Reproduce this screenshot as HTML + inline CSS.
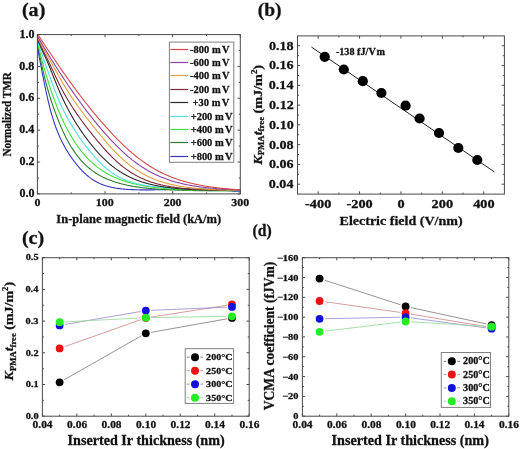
<!DOCTYPE html>
<html><head><meta charset="utf-8"><style>html,body{margin:0;padding:0;background:#fff;}svg{display:block;filter:blur(0.35px);} text{stroke:#111;stroke-width:0.28px;paint-order:stroke;}</style></head><body>
<svg width="520" height="449" viewBox="0 0 520 449" font-family="'Liberation Serif', 'Times New Roman', serif">
<rect width="520" height="449" fill="#fff"/>
<g fill="none" stroke-width="1.1" stroke-linejoin="round">
<path d="M37.40,43.49 L37.74,46.84 L38.08,49.68 L38.41,52.13 L38.75,54.28 L39.09,56.22 L39.43,58.03 L39.77,59.79 L40.11,61.54 L40.44,63.30 L40.78,65.05 L41.12,66.81 L41.46,68.57 L41.80,70.32 L42.13,72.06 L42.47,73.80 L42.81,75.53 L43.15,77.25 L43.49,78.96 L43.83,80.65 L44.16,82.33 L44.50,84.00 L44.84,85.65 L45.18,87.29 L45.52,88.90 L45.85,90.50 L46.19,92.08 L46.53,93.63 L46.87,95.17 L47.21,96.69 L47.55,98.18 L47.88,99.65 L48.22,101.09 L48.56,102.52 L48.90,103.92 L49.24,105.29 L49.57,106.64 L49.91,107.97 L50.25,109.27 L50.59,110.54 L50.93,111.79 L51.26,113.01 L51.94,115.39 L52.62,117.66 L53.30,119.85 L53.98,121.94 L54.65,123.96 L55.33,125.89 L56.01,127.76 L56.69,129.56 L57.36,131.29 L58.04,132.97 L58.72,134.58 L59.40,136.15 L60.07,137.66 L60.75,139.12 L61.43,140.54 L62.11,141.92 L62.78,143.26 L63.46,144.56 L64.14,145.82 L64.82,147.05 L65.49,148.24 L66.17,149.41 L66.85,150.55 L67.53,151.66 L68.20,152.74 L68.88,153.80 L69.56,154.83 L70.24,155.84 L70.91,156.83 L71.59,157.80 L72.27,158.76 L72.95,159.69 L73.62,160.60 L74.30,161.50 L74.98,162.38 L75.66,163.24 L76.33,164.09 L77.01,164.92 L77.69,165.73 L78.37,166.54 L79.04,167.32 L79.72,168.09 L80.40,168.85 L81.08,169.59 L81.75,170.31 L82.43,171.01 L83.11,171.70 L83.79,172.37 L84.46,173.02 L85.14,173.66 L85.82,174.28 L86.50,174.88 L87.17,175.46 L87.85,176.03 L88.53,176.58 L89.21,177.11 L89.88,177.63 L90.56,178.13 L91.24,178.62 L91.92,179.08 L92.60,179.54 L93.27,179.98 L93.95,180.40 L94.63,180.81 L95.31,181.21 L95.98,181.59 L96.66,181.95 L97.34,182.31 L98.02,182.65 L98.69,182.98 L99.37,183.30 L100.05,183.60 L100.73,183.90 L101.40,184.18 L102.08,184.45 L102.76,184.71 L103.44,184.97 L104.11,185.21 L104.79,185.44 L105.47,185.66 L106.15,185.88 L106.82,186.08 L107.50,186.28 L108.18,186.47 L108.86,186.65 L109.53,186.82 L110.21,186.99 L110.89,187.15 L111.57,187.30 L112.24,187.44 L112.92,187.58 L113.60,187.72 L114.28,187.84 L114.95,187.97 L115.63,188.08 L116.31,188.19 L116.99,188.30 L117.66,188.40 L118.34,188.49 L119.02,188.58 L119.70,188.67 L120.37,188.75 L121.05,188.83 L121.73,188.90 L122.41,188.97 L123.08,189.03 L123.76,189.10 L124.44,189.15 L125.12,189.21 L125.79,189.26 L126.47,189.31 L127.15,189.36 L127.83,189.40 L128.51,189.44 L129.18,189.48 L129.86,189.52 L130.54,189.55 L131.22,189.59 L131.89,189.62 L132.57,189.65 L133.25,189.67 L133.93,189.70 L134.60,189.72 L135.28,189.74 L135.96,189.76 L136.64,189.78 L137.31,189.80 L137.99,189.81 L138.67,189.82 L139.35,189.84 L140.02,189.85 L140.70,189.86 L141.38,189.87 L142.06,189.87 L142.73,189.88 L143.41,189.88 L144.09,189.89 L144.77,189.89 L145.44,189.89 L146.12,189.89 L146.80,189.89 L147.48,189.89 L148.15,189.89 L148.83,189.89 L149.51,189.88 L150.19,189.88 L150.86,189.87 L151.54,189.86 L152.22,189.86 L152.90,189.85 L153.57,189.84 L154.25,189.83 L154.93,189.82 L155.61,189.81 L156.28,189.80 L156.96,189.79 L157.64,189.77 L158.32,189.76 L158.99,189.75 L159.67,189.73 L160.35,189.72 L161.03,189.70 L161.70,189.69 L162.38,189.67 L163.06,189.65 L163.74,189.64 L164.41,189.62 L165.09,189.60 L165.77,189.58 L166.45,189.56 L167.13,189.55 L167.80,189.53 L168.48,189.51 L169.16,189.49 L169.84,189.47 L170.51,189.45 L171.19,189.43 L171.87,189.41 L172.55,189.39 L173.22,189.37 L173.90,189.35 L174.58,189.33 L175.26,189.31 L175.93,189.29 L176.61,189.27 L177.29,189.25 L177.97,189.23 L178.64,189.21 L179.32,189.19 L180.00,189.18 L180.68,189.16 L181.35,189.14 L182.03,189.13 L182.71,189.11 L183.39,189.09 L184.06,189.08 L184.74,189.07 L185.42,189.05 L186.10,189.04 L186.77,189.03 L187.45,189.02 L188.13,189.01 L188.81,189.00 L189.48,188.99 L190.16,188.98 L190.84,188.97 L191.52,188.97 L192.19,188.97 L192.87,188.96 L193.55,188.96 L194.23,188.96 L194.90,188.96 L195.58,188.96 L196.26,188.97 L196.94,188.97 L197.61,188.98 L198.29,188.99 L198.97,188.99 L199.65,189.01 L200.32,189.02 L201.00,189.03 L201.68,189.05 L202.36,189.06 L203.04,189.08 L203.71,189.10 L204.39,189.12 L205.07,189.15 L205.75,189.17 L206.42,189.20 L207.10,189.23 L207.78,189.26 L208.46,189.29 L209.13,189.32 L209.81,189.36 L210.49,189.39 L211.17,189.43 L211.84,189.47 L212.52,189.51 L213.20,189.55 L213.88,189.60 L214.55,189.64 L215.23,189.69 L215.91,189.73 L216.59,189.78 L217.26,189.83 L217.94,189.88 L218.62,189.94 L219.30,189.99 L219.97,190.04 L220.65,190.10 L221.33,190.15 L222.01,190.21 L222.68,190.27 L223.36,190.33 L224.04,190.39 L224.72,190.44 L225.39,190.50 L226.07,190.56 L226.75,190.62 L227.43,190.68 L228.10,190.74 L228.78,190.81 L229.46,190.87 L230.14,190.93 L230.81,190.99 L231.49,191.05 L232.17,191.11 L232.85,191.16 L233.52,191.22 L234.20,191.28 L234.88,191.34 L235.56,191.40 L236.23,191.45 L236.91,191.51 L237.59,191.56 L238.27,191.62 L238.94,191.67 L239.62,191.72 L240.30,191.77" stroke="#3636c0"/>
<path d="M37.40,42.08 L37.74,44.16 L38.08,46.17 L38.41,48.13 L38.75,50.04 L39.09,51.89 L39.43,53.70 L39.77,55.47 L40.11,57.20 L40.44,58.89 L40.78,60.56 L41.12,62.19 L41.46,63.80 L41.80,65.37 L42.13,66.92 L42.47,68.45 L42.81,69.94 L43.15,71.41 L43.49,72.86 L43.83,74.28 L44.16,75.68 L44.50,77.06 L44.84,78.42 L45.18,79.76 L45.52,81.07 L45.85,82.37 L46.19,83.64 L46.53,84.90 L46.87,86.14 L47.21,87.36 L47.55,88.57 L47.88,89.76 L48.22,90.93 L48.56,92.09 L48.90,93.23 L49.24,94.36 L49.57,95.47 L49.91,96.57 L50.25,97.65 L50.59,98.73 L50.93,99.79 L51.26,100.83 L51.94,102.90 L52.62,104.92 L53.30,106.89 L53.98,108.83 L54.65,110.72 L55.33,112.58 L56.01,114.41 L56.69,116.21 L57.36,117.97 L58.04,119.70 L58.72,121.39 L59.40,123.06 L60.07,124.69 L60.75,126.28 L61.43,127.85 L62.11,129.38 L62.78,130.88 L63.46,132.35 L64.14,133.78 L64.82,135.19 L65.49,136.56 L66.17,137.90 L66.85,139.21 L67.53,140.49 L68.20,141.73 L68.88,142.95 L69.56,144.14 L70.24,145.30 L70.91,146.43 L71.59,147.53 L72.27,148.61 L72.95,149.65 L73.62,150.67 L74.30,151.67 L74.98,152.64 L75.66,153.58 L76.33,154.50 L77.01,155.40 L77.69,156.28 L78.37,157.13 L79.04,157.96 L79.72,158.78 L80.40,159.57 L81.08,160.34 L81.75,161.09 L82.43,161.82 L83.11,162.54 L83.79,163.23 L84.46,163.91 L85.14,164.57 L85.82,165.22 L86.50,165.85 L87.17,166.46 L87.85,167.06 L88.53,167.64 L89.21,168.21 L89.88,168.76 L90.56,169.31 L91.24,169.83 L91.92,170.35 L92.60,170.85 L93.27,171.34 L93.95,171.81 L94.63,172.28 L95.31,172.73 L95.98,173.17 L96.66,173.60 L97.34,174.02 L98.02,174.43 L98.69,174.83 L99.37,175.22 L100.05,175.61 L100.73,175.98 L101.40,176.34 L102.08,176.69 L102.76,177.04 L103.44,177.37 L104.11,177.70 L104.79,178.02 L105.47,178.33 L106.15,178.64 L106.82,178.93 L107.50,179.22 L108.18,179.51 L108.86,179.78 L109.53,180.05 L110.21,180.31 L110.89,180.57 L111.57,180.82 L112.24,181.06 L112.92,181.30 L113.60,181.53 L114.28,181.76 L114.95,181.98 L115.63,182.20 L116.31,182.41 L116.99,182.61 L117.66,182.81 L118.34,183.01 L119.02,183.20 L119.70,183.39 L120.37,183.57 L121.05,183.75 L121.73,183.92 L122.41,184.09 L123.08,184.26 L123.76,184.42 L124.44,184.58 L125.12,184.73 L125.79,184.88 L126.47,185.03 L127.15,185.17 L127.83,185.31 L128.51,185.45 L129.18,185.58 L129.86,185.72 L130.54,185.84 L131.22,185.97 L131.89,186.09 L132.57,186.21 L133.25,186.32 L133.93,186.44 L134.60,186.55 L135.28,186.66 L135.96,186.76 L136.64,186.87 L137.31,186.97 L137.99,187.06 L138.67,187.16 L139.35,187.25 L140.02,187.35 L140.70,187.44 L141.38,187.52 L142.06,187.61 L142.73,187.69 L143.41,187.77 L144.09,187.85 L144.77,187.93 L145.44,188.01 L146.12,188.08 L146.80,188.16 L147.48,188.23 L148.15,188.30 L148.83,188.36 L149.51,188.43 L150.19,188.50 L150.86,188.56 L151.54,188.62 L152.22,188.68 L152.90,188.74 L153.57,188.80 L154.25,188.86 L154.93,188.91 L155.61,188.96 L156.28,189.02 L156.96,189.07 L157.64,189.12 L158.32,189.17 L158.99,189.22 L159.67,189.26 L160.35,189.31 L161.03,189.35 L161.70,189.40 L162.38,189.44 L163.06,189.48 L163.74,189.52 L164.41,189.56 L165.09,189.60 L165.77,189.64 L166.45,189.67 L167.13,189.71 L167.80,189.75 L168.48,189.78 L169.16,189.81 L169.84,189.85 L170.51,189.88 L171.19,189.91 L171.87,189.94 L172.55,189.97 L173.22,190.00 L173.90,190.03 L174.58,190.05 L175.26,190.08 L175.93,190.11 L176.61,190.13 L177.29,190.16 L177.97,190.18 L178.64,190.20 L179.32,190.23 L180.00,190.25 L180.68,190.27 L181.35,190.29 L182.03,190.31 L182.71,190.33 L183.39,190.35 L184.06,190.37 L184.74,190.39 L185.42,190.41 L186.10,190.42 L186.77,190.44 L187.45,190.46 L188.13,190.47 L188.81,190.49 L189.48,190.50 L190.16,190.51 L190.84,190.53 L191.52,190.54 L192.19,190.55 L192.87,190.57 L193.55,190.58 L194.23,190.59 L194.90,190.60 L195.58,190.61 L196.26,190.62 L196.94,190.63 L197.61,190.64 L198.29,190.65 L198.97,190.65 L199.65,190.66 L200.32,190.67 L201.00,190.67 L201.68,190.68 L202.36,190.69 L203.04,190.69 L203.71,190.70 L204.39,190.70 L205.07,190.71 L205.75,190.71 L206.42,190.71 L207.10,190.71 L207.78,190.72 L208.46,190.72 L209.13,190.72 L209.81,190.72 L210.49,190.72 L211.17,190.72 L211.84,190.72 L212.52,190.72 L213.20,190.72 L213.88,190.72 L214.55,190.72 L215.23,190.71 L215.91,190.71 L216.59,190.71 L217.26,190.70 L217.94,190.70 L218.62,190.70 L219.30,190.69 L219.97,190.69 L220.65,190.68 L221.33,190.67 L222.01,190.67 L222.68,190.66 L223.36,190.65 L224.04,190.64 L224.72,190.63 L225.39,190.62 L226.07,190.61 L226.75,190.60 L227.43,190.59 L228.10,190.58 L228.78,190.57 L229.46,190.55 L230.14,190.54 L230.81,190.53 L231.49,190.51 L232.17,190.50 L232.85,190.48 L233.52,190.46 L234.20,190.45 L234.88,190.43 L235.56,190.41 L236.23,190.39 L236.91,190.37 L237.59,190.35 L238.27,190.33 L238.94,190.31 L239.62,190.28 L240.30,190.26" stroke="#2e7d32"/>
<path d="M37.40,42.15 L37.74,43.55 L38.08,44.94 L38.41,46.32 L38.75,47.69 L39.09,49.04 L39.43,50.39 L39.77,51.72 L40.11,53.05 L40.44,54.36 L40.78,55.66 L41.12,56.96 L41.46,58.24 L41.80,59.51 L42.13,60.77 L42.47,62.02 L42.81,63.26 L43.15,64.49 L43.49,65.71 L43.83,66.92 L44.16,68.12 L44.50,69.31 L44.84,70.49 L45.18,71.66 L45.52,72.82 L45.85,73.96 L46.19,75.10 L46.53,76.23 L46.87,77.36 L47.21,78.47 L47.55,79.57 L47.88,80.66 L48.22,81.74 L48.56,82.82 L48.90,83.88 L49.24,84.93 L49.57,85.98 L49.91,87.02 L50.25,88.04 L50.59,89.06 L50.93,90.07 L51.26,91.07 L51.94,93.05 L52.62,94.99 L53.30,96.90 L53.98,98.78 L54.65,100.62 L55.33,102.43 L56.01,104.20 L56.69,105.95 L57.36,107.66 L58.04,109.34 L58.72,110.99 L59.40,112.61 L60.07,114.19 L60.75,115.75 L61.43,117.28 L62.11,118.79 L62.78,120.26 L63.46,121.71 L64.14,123.12 L64.82,124.52 L65.49,125.88 L66.17,127.22 L66.85,128.54 L67.53,129.82 L68.20,131.09 L68.88,132.33 L69.56,133.54 L70.24,134.73 L70.91,135.90 L71.59,137.05 L72.27,138.17 L72.95,139.27 L73.62,140.35 L74.30,141.41 L74.98,142.45 L75.66,143.47 L76.33,144.46 L77.01,145.44 L77.69,146.40 L78.37,147.34 L79.04,148.26 L79.72,149.16 L80.40,150.04 L81.08,150.90 L81.75,151.75 L82.43,152.58 L83.11,153.40 L83.79,154.19 L84.46,154.97 L85.14,155.74 L85.82,156.49 L86.50,157.22 L87.17,157.94 L87.85,158.65 L88.53,159.34 L89.21,160.01 L89.88,160.67 L90.56,161.32 L91.24,161.96 L91.92,162.58 L92.60,163.19 L93.27,163.78 L93.95,164.37 L94.63,164.94 L95.31,165.50 L95.98,166.05 L96.66,166.58 L97.34,167.11 L98.02,167.62 L98.69,168.13 L99.37,168.62 L100.05,169.10 L100.73,169.57 L101.40,170.04 L102.08,170.49 L102.76,170.93 L103.44,171.37 L104.11,171.79 L104.79,172.21 L105.47,172.61 L106.15,173.01 L106.82,173.40 L107.50,173.78 L108.18,174.16 L108.86,174.52 L109.53,174.88 L110.21,175.23 L110.89,175.57 L111.57,175.91 L112.24,176.24 L112.92,176.56 L113.60,176.88 L114.28,177.18 L114.95,177.49 L115.63,177.78 L116.31,178.07 L116.99,178.35 L117.66,178.63 L118.34,178.90 L119.02,179.16 L119.70,179.42 L120.37,179.68 L121.05,179.93 L121.73,180.17 L122.41,180.41 L123.08,180.64 L123.76,180.87 L124.44,181.09 L125.12,181.31 L125.79,181.52 L126.47,181.73 L127.15,181.94 L127.83,182.14 L128.51,182.33 L129.18,182.53 L129.86,182.71 L130.54,182.90 L131.22,183.08 L131.89,183.25 L132.57,183.43 L133.25,183.60 L133.93,183.76 L134.60,183.92 L135.28,184.08 L135.96,184.24 L136.64,184.39 L137.31,184.53 L137.99,184.68 L138.67,184.82 L139.35,184.96 L140.02,185.10 L140.70,185.23 L141.38,185.36 L142.06,185.49 L142.73,185.61 L143.41,185.74 L144.09,185.86 L144.77,185.97 L145.44,186.09 L146.12,186.20 L146.80,186.31 L147.48,186.42 L148.15,186.52 L148.83,186.63 L149.51,186.73 L150.19,186.83 L150.86,186.92 L151.54,187.02 L152.22,187.11 L152.90,187.20 L153.57,187.29 L154.25,187.38 L154.93,187.46 L155.61,187.54 L156.28,187.63 L156.96,187.71 L157.64,187.78 L158.32,187.86 L158.99,187.94 L159.67,188.01 L160.35,188.08 L161.03,188.15 L161.70,188.22 L162.38,188.29 L163.06,188.35 L163.74,188.42 L164.41,188.48 L165.09,188.54 L165.77,188.60 L166.45,188.66 L167.13,188.72 L167.80,188.78 L168.48,188.83 L169.16,188.89 L169.84,188.94 L170.51,188.99 L171.19,189.04 L171.87,189.09 L172.55,189.14 L173.22,189.19 L173.90,189.24 L174.58,189.28 L175.26,189.33 L175.93,189.37 L176.61,189.41 L177.29,189.46 L177.97,189.50 L178.64,189.54 L179.32,189.58 L180.00,189.61 L180.68,189.65 L181.35,189.69 L182.03,189.72 L182.71,189.76 L183.39,189.79 L184.06,189.83 L184.74,189.86 L185.42,189.89 L186.10,189.92 L186.77,189.95 L187.45,189.98 L188.13,190.01 L188.81,190.04 L189.48,190.07 L190.16,190.10 L190.84,190.12 L191.52,190.15 L192.19,190.18 L192.87,190.20 L193.55,190.22 L194.23,190.25 L194.90,190.27 L195.58,190.29 L196.26,190.32 L196.94,190.34 L197.61,190.36 L198.29,190.38 L198.97,190.40 L199.65,190.42 L200.32,190.44 L201.00,190.45 L201.68,190.47 L202.36,190.49 L203.04,190.51 L203.71,190.52 L204.39,190.54 L205.07,190.55 L205.75,190.57 L206.42,190.58 L207.10,190.60 L207.78,190.61 L208.46,190.62 L209.13,190.64 L209.81,190.65 L210.49,190.66 L211.17,190.67 L211.84,190.68 L212.52,190.69 L213.20,190.70 L213.88,190.71 L214.55,190.72 L215.23,190.73 L215.91,190.74 L216.59,190.75 L217.26,190.75 L217.94,190.76 L218.62,190.77 L219.30,190.78 L219.97,190.78 L220.65,190.79 L221.33,190.79 L222.01,190.80 L222.68,190.80 L223.36,190.81 L224.04,190.81 L224.72,190.81 L225.39,190.82 L226.07,190.82 L226.75,190.82 L227.43,190.82 L228.10,190.82 L228.78,190.83 L229.46,190.83 L230.14,190.83 L230.81,190.83 L231.49,190.83 L232.17,190.83 L232.85,190.82 L233.52,190.82 L234.20,190.82 L234.88,190.82 L235.56,190.82 L236.23,190.81 L236.91,190.81 L237.59,190.80 L238.27,190.80 L238.94,190.80 L239.62,190.79 L240.30,190.78" stroke="#44dd44"/>
<path d="M37.40,40.67 L37.74,41.82 L38.08,42.93 L38.41,44.03 L38.75,45.10 L39.09,46.16 L39.43,47.19 L39.77,48.21 L40.11,49.22 L40.44,50.21 L40.78,51.19 L41.12,52.16 L41.46,53.13 L41.80,54.08 L42.13,55.04 L42.47,55.99 L42.81,56.93 L43.15,57.88 L43.49,58.83 L43.83,59.77 L44.16,60.73 L44.50,61.68 L44.84,62.64 L45.18,63.59 L45.52,64.55 L45.85,65.51 L46.19,66.47 L46.53,67.44 L46.87,68.40 L47.21,69.36 L47.55,70.32 L47.88,71.28 L48.22,72.24 L48.56,73.19 L48.90,74.15 L49.24,75.10 L49.57,76.05 L49.91,76.99 L50.25,77.94 L50.59,78.88 L50.93,79.81 L51.26,80.75 L51.94,82.60 L52.62,84.44 L53.30,86.26 L53.98,88.05 L54.65,89.82 L55.33,91.57 L56.01,93.29 L56.69,94.98 L57.36,96.65 L58.04,98.28 L58.72,99.89 L59.40,101.46 L60.07,103.01 L60.75,104.52 L61.43,106.00 L62.11,107.45 L62.78,108.87 L63.46,110.27 L64.14,111.63 L64.82,112.98 L65.49,114.30 L66.17,115.59 L66.85,116.87 L67.53,118.12 L68.20,119.35 L68.88,120.56 L69.56,121.75 L70.24,122.93 L70.91,124.08 L71.59,125.22 L72.27,126.34 L72.95,127.45 L73.62,128.54 L74.30,129.62 L74.98,130.68 L75.66,131.73 L76.33,132.77 L77.01,133.79 L77.69,134.80 L78.37,135.80 L79.04,136.78 L79.72,137.76 L80.40,138.72 L81.08,139.68 L81.75,140.62 L82.43,141.55 L83.11,142.48 L83.79,143.39 L84.46,144.30 L85.14,145.19 L85.82,146.08 L86.50,146.95 L87.17,147.82 L87.85,148.68 L88.53,149.54 L89.21,150.38 L89.88,151.22 L90.56,152.04 L91.24,152.86 L91.92,153.67 L92.60,154.47 L93.27,155.26 L93.95,156.05 L94.63,156.82 L95.31,157.58 L95.98,158.33 L96.66,159.07 L97.34,159.79 L98.02,160.51 L98.69,161.22 L99.37,161.91 L100.05,162.59 L100.73,163.26 L101.40,163.92 L102.08,164.57 L102.76,165.20 L103.44,165.82 L104.11,166.43 L104.79,167.03 L105.47,167.62 L106.15,168.19 L106.82,168.75 L107.50,169.30 L108.18,169.84 L108.86,170.37 L109.53,170.89 L110.21,171.39 L110.89,171.88 L111.57,172.36 L112.24,172.83 L112.92,173.29 L113.60,173.74 L114.28,174.18 L114.95,174.61 L115.63,175.02 L116.31,175.43 L116.99,175.83 L117.66,176.21 L118.34,176.59 L119.02,176.96 L119.70,177.31 L120.37,177.66 L121.05,178.00 L121.73,178.33 L122.41,178.65 L123.08,178.97 L123.76,179.27 L124.44,179.57 L125.12,179.85 L125.79,180.13 L126.47,180.41 L127.15,180.67 L127.83,180.93 L128.51,181.18 L129.18,181.42 L129.86,181.65 L130.54,181.88 L131.22,182.11 L131.89,182.32 L132.57,182.53 L133.25,182.73 L133.93,182.93 L134.60,183.12 L135.28,183.30 L135.96,183.48 L136.64,183.66 L137.31,183.82 L137.99,183.99 L138.67,184.14 L139.35,184.30 L140.02,184.44 L140.70,184.59 L141.38,184.72 L142.06,184.86 L142.73,184.99 L143.41,185.11 L144.09,185.23 L144.77,185.35 L145.44,185.46 L146.12,185.57 L146.80,185.68 L147.48,185.78 L148.15,185.88 L148.83,185.98 L149.51,186.07 L150.19,186.16 L150.86,186.25 L151.54,186.34 L152.22,186.42 L152.90,186.50 L153.57,186.58 L154.25,186.65 L154.93,186.73 L155.61,186.80 L156.28,186.87 L156.96,186.93 L157.64,187.00 L158.32,187.06 L158.99,187.13 L159.67,187.19 L160.35,187.25 L161.03,187.30 L161.70,187.36 L162.38,187.41 L163.06,187.46 L163.74,187.52 L164.41,187.57 L165.09,187.61 L165.77,187.66 L166.45,187.71 L167.13,187.75 L167.80,187.80 L168.48,187.84 L169.16,187.88 L169.84,187.92 L170.51,187.96 L171.19,188.00 L171.87,188.04 L172.55,188.08 L173.22,188.11 L173.90,188.15 L174.58,188.18 L175.26,188.22 L175.93,188.25 L176.61,188.29 L177.29,188.32 L177.97,188.35 L178.64,188.38 L179.32,188.41 L180.00,188.44 L180.68,188.47 L181.35,188.50 L182.03,188.53 L182.71,188.56 L183.39,188.58 L184.06,188.61 L184.74,188.64 L185.42,188.66 L186.10,188.69 L186.77,188.71 L187.45,188.74 L188.13,188.77 L188.81,188.79 L189.48,188.82 L190.16,188.84 L190.84,188.86 L191.52,188.89 L192.19,188.91 L192.87,188.94 L193.55,188.96 L194.23,188.98 L194.90,189.01 L195.58,189.03 L196.26,189.05 L196.94,189.07 L197.61,189.10 L198.29,189.12 L198.97,189.14 L199.65,189.17 L200.32,189.19 L201.00,189.21 L201.68,189.23 L202.36,189.26 L203.04,189.28 L203.71,189.30 L204.39,189.33 L205.07,189.35 L205.75,189.37 L206.42,189.40 L207.10,189.42 L207.78,189.44 L208.46,189.47 L209.13,189.49 L209.81,189.51 L210.49,189.54 L211.17,189.56 L211.84,189.59 L212.52,189.61 L213.20,189.63 L213.88,189.66 L214.55,189.68 L215.23,189.71 L215.91,189.73 L216.59,189.76 L217.26,189.79 L217.94,189.81 L218.62,189.84 L219.30,189.86 L219.97,189.89 L220.65,189.92 L221.33,189.94 L222.01,189.97 L222.68,190.00 L223.36,190.03 L224.04,190.05 L224.72,190.08 L225.39,190.11 L226.07,190.14 L226.75,190.17 L227.43,190.19 L228.10,190.22 L228.78,190.25 L229.46,190.28 L230.14,190.31 L230.81,190.34 L231.49,190.37 L232.17,190.40 L232.85,190.43 L233.52,190.46 L234.20,190.49 L234.88,190.52 L235.56,190.55 L236.23,190.58 L236.91,190.61 L237.59,190.65 L238.27,190.68 L238.94,190.71 L239.62,190.74 L240.30,190.77" stroke="#55dede"/>
<path d="M37.40,38.51 L37.74,39.47 L38.08,40.40 L38.41,41.32 L38.75,42.21 L39.09,43.08 L39.43,43.93 L39.77,44.77 L40.11,45.59 L40.44,46.40 L40.78,47.19 L41.12,47.97 L41.46,48.74 L41.80,49.50 L42.13,50.26 L42.47,51.01 L42.81,51.75 L43.15,52.49 L43.49,53.22 L43.83,53.95 L44.16,54.68 L44.50,55.42 L44.84,56.15 L45.18,56.88 L45.52,57.62 L45.85,58.36 L46.19,59.11 L46.53,59.87 L46.87,60.63 L47.21,61.39 L47.55,62.17 L47.88,62.96 L48.22,63.75 L48.56,64.55 L48.90,65.36 L49.24,66.18 L49.57,67.00 L49.91,67.83 L50.25,68.66 L50.59,69.50 L50.93,70.34 L51.26,71.18 L51.94,72.88 L52.62,74.58 L53.30,76.29 L53.98,77.99 L54.65,79.69 L55.33,81.39 L56.01,83.07 L56.69,84.74 L57.36,86.39 L58.04,88.02 L58.72,89.64 L59.40,91.22 L60.07,92.78 L60.75,94.32 L61.43,95.82 L62.11,97.30 L62.78,98.76 L63.46,100.19 L64.14,101.60 L64.82,102.98 L65.49,104.34 L66.17,105.68 L66.85,107.00 L67.53,108.30 L68.20,109.58 L68.88,110.84 L69.56,112.08 L70.24,113.31 L70.91,114.52 L71.59,115.71 L72.27,116.88 L72.95,118.04 L73.62,119.18 L74.30,120.31 L74.98,121.42 L75.66,122.52 L76.33,123.60 L77.01,124.68 L77.69,125.73 L78.37,126.78 L79.04,127.81 L79.72,128.83 L80.40,129.84 L81.08,130.84 L81.75,131.83 L82.43,132.80 L83.11,133.77 L83.79,134.72 L84.46,135.67 L85.14,136.60 L85.82,137.53 L86.50,138.44 L87.17,139.34 L87.85,140.24 L88.53,141.13 L89.21,142.00 L89.88,142.87 L90.56,143.73 L91.24,144.58 L91.92,145.42 L92.60,146.25 L93.27,147.08 L93.95,147.89 L94.63,148.69 L95.31,149.49 L95.98,150.27 L96.66,151.05 L97.34,151.81 L98.02,152.56 L98.69,153.31 L99.37,154.04 L100.05,154.77 L100.73,155.48 L101.40,156.18 L102.08,156.88 L102.76,157.56 L103.44,158.23 L104.11,158.90 L104.79,159.55 L105.47,160.19 L106.15,160.82 L106.82,161.45 L107.50,162.06 L108.18,162.66 L108.86,163.25 L109.53,163.84 L110.21,164.41 L110.89,164.97 L111.57,165.52 L112.24,166.07 L112.92,166.60 L113.60,167.13 L114.28,167.64 L114.95,168.15 L115.63,168.64 L116.31,169.13 L116.99,169.61 L117.66,170.08 L118.34,170.54 L119.02,170.99 L119.70,171.44 L120.37,171.87 L121.05,172.30 L121.73,172.72 L122.41,173.13 L123.08,173.53 L123.76,173.92 L124.44,174.31 L125.12,174.69 L125.79,175.06 L126.47,175.42 L127.15,175.78 L127.83,176.13 L128.51,176.47 L129.18,176.80 L129.86,177.13 L130.54,177.45 L131.22,177.77 L131.89,178.07 L132.57,178.38 L133.25,178.67 L133.93,178.96 L134.60,179.24 L135.28,179.52 L135.96,179.79 L136.64,180.05 L137.31,180.31 L137.99,180.56 L138.67,180.81 L139.35,181.05 L140.02,181.29 L140.70,181.52 L141.38,181.74 L142.06,181.97 L142.73,182.18 L143.41,182.39 L144.09,182.60 L144.77,182.80 L145.44,183.00 L146.12,183.19 L146.80,183.38 L147.48,183.56 L148.15,183.74 L148.83,183.92 L149.51,184.09 L150.19,184.26 L150.86,184.42 L151.54,184.58 L152.22,184.74 L152.90,184.89 L153.57,185.04 L154.25,185.19 L154.93,185.33 L155.61,185.47 L156.28,185.60 L156.96,185.74 L157.64,185.87 L158.32,185.99 L158.99,186.12 L159.67,186.24 L160.35,186.35 L161.03,186.47 L161.70,186.58 L162.38,186.69 L163.06,186.80 L163.74,186.90 L164.41,187.00 L165.09,187.10 L165.77,187.20 L166.45,187.29 L167.13,187.39 L167.80,187.48 L168.48,187.56 L169.16,187.65 L169.84,187.73 L170.51,187.81 L171.19,187.89 L171.87,187.97 L172.55,188.04 L173.22,188.12 L173.90,188.19 L174.58,188.26 L175.26,188.33 L175.93,188.39 L176.61,188.46 L177.29,188.52 L177.97,188.58 L178.64,188.64 L179.32,188.70 L180.00,188.76 L180.68,188.81 L181.35,188.87 L182.03,188.92 L182.71,188.97 L183.39,189.02 L184.06,189.07 L184.74,189.11 L185.42,189.16 L186.10,189.20 L186.77,189.24 L187.45,189.29 L188.13,189.33 L188.81,189.36 L189.48,189.40 L190.16,189.44 L190.84,189.48 L191.52,189.51 L192.19,189.54 L192.87,189.58 L193.55,189.61 L194.23,189.64 L194.90,189.67 L195.58,189.69 L196.26,189.72 L196.94,189.75 L197.61,189.77 L198.29,189.80 L198.97,189.82 L199.65,189.84 L200.32,189.87 L201.00,189.89 L201.68,189.91 L202.36,189.92 L203.04,189.94 L203.71,189.96 L204.39,189.98 L205.07,189.99 L205.75,190.01 L206.42,190.02 L207.10,190.03 L207.78,190.04 L208.46,190.05 L209.13,190.06 L209.81,190.07 L210.49,190.08 L211.17,190.09 L211.84,190.10 L212.52,190.10 L213.20,190.11 L213.88,190.11 L214.55,190.12 L215.23,190.12 L215.91,190.12 L216.59,190.12 L217.26,190.12 L217.94,190.12 L218.62,190.12 L219.30,190.12 L219.97,190.11 L220.65,190.11 L221.33,190.10 L222.01,190.10 L222.68,190.09 L223.36,190.08 L224.04,190.07 L224.72,190.06 L225.39,190.05 L226.07,190.04 L226.75,190.03 L227.43,190.01 L228.10,190.00 L228.78,189.98 L229.46,189.96 L230.14,189.94 L230.81,189.92 L231.49,189.90 L232.17,189.88 L232.85,189.86 L233.52,189.83 L234.20,189.81 L234.88,189.78 L235.56,189.75 L236.23,189.72 L236.91,189.69 L237.59,189.66 L238.27,189.62 L238.94,189.58 L239.62,189.55 L240.30,189.51" stroke="#2a2a2a"/>
<path d="M37.40,37.64 L37.74,38.51 L38.08,39.36 L38.41,40.19 L38.75,41.01 L39.09,41.82 L39.43,42.61 L39.77,43.39 L40.11,44.15 L40.44,44.91 L40.78,45.65 L41.12,46.39 L41.46,47.12 L41.80,47.84 L42.13,48.55 L42.47,49.25 L42.81,49.95 L43.15,50.65 L43.49,51.34 L43.83,52.02 L44.16,52.70 L44.50,53.38 L44.84,54.06 L45.18,54.74 L45.52,55.41 L45.85,56.09 L46.19,56.76 L46.53,57.44 L46.87,58.11 L47.21,58.79 L47.55,59.48 L47.88,60.16 L48.22,60.85 L48.56,61.54 L48.90,62.24 L49.24,62.94 L49.57,63.64 L49.91,64.35 L50.25,65.07 L50.59,65.78 L50.93,66.50 L51.26,67.23 L51.94,68.68 L52.62,70.14 L53.30,71.60 L53.98,73.05 L54.65,74.51 L55.33,75.96 L56.01,77.40 L56.69,78.84 L57.36,80.25 L58.04,81.66 L58.72,83.05 L59.40,84.41 L60.07,85.76 L60.75,87.09 L61.43,88.40 L62.11,89.68 L62.78,90.95 L63.46,92.20 L64.14,93.42 L64.82,94.64 L65.49,95.83 L66.17,97.01 L66.85,98.17 L67.53,99.32 L68.20,100.45 L68.88,101.57 L69.56,102.68 L70.24,103.77 L70.91,104.85 L71.59,105.92 L72.27,106.98 L72.95,108.03 L73.62,109.06 L74.30,110.08 L74.98,111.10 L75.66,112.10 L76.33,113.10 L77.01,114.09 L77.69,115.07 L78.37,116.04 L79.04,117.00 L79.72,117.95 L80.40,118.90 L81.08,119.84 L81.75,120.77 L82.43,121.70 L83.11,122.62 L83.79,123.53 L84.46,124.44 L85.14,125.34 L85.82,126.23 L86.50,127.12 L87.17,128.01 L87.85,128.89 L88.53,129.76 L89.21,130.63 L89.88,131.49 L90.56,132.35 L91.24,133.20 L91.92,134.05 L92.60,134.90 L93.27,135.74 L93.95,136.57 L94.63,137.41 L95.31,138.23 L95.98,139.06 L96.66,139.87 L97.34,140.69 L98.02,141.50 L98.69,142.30 L99.37,143.10 L100.05,143.90 L100.73,144.69 L101.40,145.48 L102.08,146.26 L102.76,147.04 L103.44,147.81 L104.11,148.58 L104.79,149.34 L105.47,150.09 L106.15,150.83 L106.82,151.57 L107.50,152.31 L108.18,153.03 L108.86,153.75 L109.53,154.46 L110.21,155.16 L110.89,155.85 L111.57,156.54 L112.24,157.22 L112.92,157.88 L113.60,158.54 L114.28,159.20 L114.95,159.84 L115.63,160.47 L116.31,161.10 L116.99,161.72 L117.66,162.32 L118.34,162.92 L119.02,163.51 L119.70,164.09 L120.37,164.66 L121.05,165.23 L121.73,165.78 L122.41,166.33 L123.08,166.86 L123.76,167.39 L124.44,167.91 L125.12,168.42 L125.79,168.92 L126.47,169.41 L127.15,169.89 L127.83,170.37 L128.51,170.83 L129.18,171.29 L129.86,171.74 L130.54,172.18 L131.22,172.61 L131.89,173.03 L132.57,173.45 L133.25,173.85 L133.93,174.25 L134.60,174.64 L135.28,175.03 L135.96,175.40 L136.64,175.77 L137.31,176.13 L137.99,176.49 L138.67,176.83 L139.35,177.17 L140.02,177.50 L140.70,177.83 L141.38,178.15 L142.06,178.46 L142.73,178.76 L143.41,179.06 L144.09,179.35 L144.77,179.63 L145.44,179.91 L146.12,180.19 L146.80,180.45 L147.48,180.71 L148.15,180.97 L148.83,181.22 L149.51,181.46 L150.19,181.70 L150.86,181.93 L151.54,182.16 L152.22,182.38 L152.90,182.59 L153.57,182.80 L154.25,183.01 L154.93,183.21 L155.61,183.41 L156.28,183.60 L156.96,183.79 L157.64,183.97 L158.32,184.15 L158.99,184.33 L159.67,184.50 L160.35,184.66 L161.03,184.83 L161.70,184.98 L162.38,185.14 L163.06,185.29 L163.74,185.44 L164.41,185.58 L165.09,185.72 L165.77,185.86 L166.45,185.99 L167.13,186.12 L167.80,186.25 L168.48,186.37 L169.16,186.49 L169.84,186.61 L170.51,186.72 L171.19,186.83 L171.87,186.94 L172.55,187.05 L173.22,187.15 L173.90,187.25 L174.58,187.35 L175.26,187.44 L175.93,187.54 L176.61,187.63 L177.29,187.72 L177.97,187.80 L178.64,187.88 L179.32,187.97 L180.00,188.05 L180.68,188.12 L181.35,188.20 L182.03,188.27 L182.71,188.34 L183.39,188.41 L184.06,188.48 L184.74,188.54 L185.42,188.61 L186.10,188.67 L186.77,188.73 L187.45,188.79 L188.13,188.84 L188.81,188.90 L189.48,188.95 L190.16,189.00 L190.84,189.05 L191.52,189.10 L192.19,189.15 L192.87,189.19 L193.55,189.24 L194.23,189.28 L194.90,189.32 L195.58,189.36 L196.26,189.40 L196.94,189.44 L197.61,189.48 L198.29,189.51 L198.97,189.55 L199.65,189.58 L200.32,189.61 L201.00,189.64 L201.68,189.67 L202.36,189.70 L203.04,189.72 L203.71,189.75 L204.39,189.77 L205.07,189.80 L205.75,189.82 L206.42,189.84 L207.10,189.86 L207.78,189.88 L208.46,189.90 L209.13,189.92 L209.81,189.93 L210.49,189.95 L211.17,189.96 L211.84,189.98 L212.52,189.99 L213.20,190.00 L213.88,190.01 L214.55,190.02 L215.23,190.03 L215.91,190.03 L216.59,190.04 L217.26,190.05 L217.94,190.05 L218.62,190.05 L219.30,190.06 L219.97,190.06 L220.65,190.06 L221.33,190.06 L222.01,190.05 L222.68,190.05 L223.36,190.05 L224.04,190.04 L224.72,190.04 L225.39,190.03 L226.07,190.02 L226.75,190.01 L227.43,190.00 L228.10,189.99 L228.78,189.98 L229.46,189.96 L230.14,189.95 L230.81,189.93 L231.49,189.91 L232.17,189.89 L232.85,189.87 L233.52,189.85 L234.20,189.83 L234.88,189.80 L235.56,189.77 L236.23,189.74 L236.91,189.72 L237.59,189.68 L238.27,189.65 L238.94,189.62 L239.62,189.58 L240.30,189.54" stroke="#7a2a3c"/>
<path d="M37.40,36.78 L37.74,37.48 L38.08,38.18 L38.41,38.86 L38.75,39.55 L39.09,40.22 L39.43,40.89 L39.77,41.55 L40.11,42.21 L40.44,42.87 L40.78,43.51 L41.12,44.16 L41.46,44.80 L41.80,45.43 L42.13,46.06 L42.47,46.69 L42.81,47.31 L43.15,47.93 L43.49,48.55 L43.83,49.17 L44.16,49.78 L44.50,50.39 L44.84,51.00 L45.18,51.61 L45.52,52.21 L45.85,52.82 L46.19,53.42 L46.53,54.03 L46.87,54.63 L47.21,55.23 L47.55,55.83 L47.88,56.43 L48.22,57.03 L48.56,57.64 L48.90,58.24 L49.24,58.84 L49.57,59.44 L49.91,60.05 L50.25,60.66 L50.59,61.26 L50.93,61.87 L51.26,62.48 L51.94,63.71 L52.62,64.94 L53.30,66.17 L53.98,67.41 L54.65,68.65 L55.33,69.88 L56.01,71.11 L56.69,72.34 L57.36,73.57 L58.04,74.79 L58.72,76.00 L59.40,77.21 L60.07,78.41 L60.75,79.60 L61.43,80.78 L62.11,81.95 L62.78,83.11 L63.46,84.26 L64.14,85.39 L64.82,86.51 L65.49,87.62 L66.17,88.72 L66.85,89.80 L67.53,90.87 L68.20,91.93 L68.88,92.98 L69.56,94.02 L70.24,95.05 L70.91,96.08 L71.59,97.09 L72.27,98.09 L72.95,99.08 L73.62,100.07 L74.30,101.05 L74.98,102.02 L75.66,102.98 L76.33,103.94 L77.01,104.89 L77.69,105.84 L78.37,106.78 L79.04,107.71 L79.72,108.64 L80.40,109.56 L81.08,110.47 L81.75,111.39 L82.43,112.29 L83.11,113.20 L83.79,114.10 L84.46,114.99 L85.14,115.88 L85.82,116.77 L86.50,117.65 L87.17,118.53 L87.85,119.41 L88.53,120.28 L89.21,121.15 L89.88,122.02 L90.56,122.88 L91.24,123.74 L91.92,124.60 L92.60,125.45 L93.27,126.31 L93.95,127.16 L94.63,128.00 L95.31,128.85 L95.98,129.69 L96.66,130.53 L97.34,131.36 L98.02,132.20 L98.69,133.03 L99.37,133.86 L100.05,134.68 L100.73,135.51 L101.40,136.33 L102.08,137.14 L102.76,137.96 L103.44,138.77 L104.11,139.57 L104.79,140.37 L105.47,141.17 L106.15,141.96 L106.82,142.74 L107.50,143.52 L108.18,144.30 L108.86,145.07 L109.53,145.83 L110.21,146.58 L110.89,147.33 L111.57,148.08 L112.24,148.81 L112.92,149.54 L113.60,150.26 L114.28,150.98 L114.95,151.68 L115.63,152.38 L116.31,153.07 L116.99,153.76 L117.66,154.43 L118.34,155.10 L119.02,155.76 L119.70,156.41 L120.37,157.06 L121.05,157.69 L121.73,158.32 L122.41,158.94 L123.08,159.55 L123.76,160.15 L124.44,160.75 L125.12,161.33 L125.79,161.91 L126.47,162.48 L127.15,163.04 L127.83,163.59 L128.51,164.14 L129.18,164.67 L129.86,165.20 L130.54,165.72 L131.22,166.23 L131.89,166.74 L132.57,167.23 L133.25,167.72 L133.93,168.20 L134.60,168.67 L135.28,169.13 L135.96,169.59 L136.64,170.04 L137.31,170.48 L137.99,170.91 L138.67,171.33 L139.35,171.75 L140.02,172.16 L140.70,172.56 L141.38,172.96 L142.06,173.35 L142.73,173.73 L143.41,174.10 L144.09,174.47 L144.77,174.83 L145.44,175.18 L146.12,175.53 L146.80,175.87 L147.48,176.20 L148.15,176.53 L148.83,176.85 L149.51,177.16 L150.19,177.47 L150.86,177.77 L151.54,178.07 L152.22,178.36 L152.90,178.65 L153.57,178.92 L154.25,179.20 L154.93,179.47 L155.61,179.73 L156.28,179.98 L156.96,180.24 L157.64,180.48 L158.32,180.72 L158.99,180.96 L159.67,181.19 L160.35,181.42 L161.03,181.64 L161.70,181.86 L162.38,182.07 L163.06,182.28 L163.74,182.48 L164.41,182.68 L165.09,182.87 L165.77,183.06 L166.45,183.25 L167.13,183.43 L167.80,183.61 L168.48,183.79 L169.16,183.96 L169.84,184.12 L170.51,184.29 L171.19,184.45 L171.87,184.60 L172.55,184.76 L173.22,184.90 L173.90,185.05 L174.58,185.19 L175.26,185.33 L175.93,185.47 L176.61,185.60 L177.29,185.73 L177.97,185.86 L178.64,185.98 L179.32,186.11 L180.00,186.23 L180.68,186.34 L181.35,186.46 L182.03,186.57 L182.71,186.67 L183.39,186.78 L184.06,186.88 L184.74,186.98 L185.42,187.08 L186.10,187.18 L186.77,187.27 L187.45,187.37 L188.13,187.46 L188.81,187.54 L189.48,187.63 L190.16,187.71 L190.84,187.79 L191.52,187.87 L192.19,187.95 L192.87,188.03 L193.55,188.10 L194.23,188.17 L194.90,188.24 L195.58,188.31 L196.26,188.38 L196.94,188.45 L197.61,188.51 L198.29,188.57 L198.97,188.63 L199.65,188.69 L200.32,188.75 L201.00,188.81 L201.68,188.86 L202.36,188.91 L203.04,188.97 L203.71,189.02 L204.39,189.07 L205.07,189.11 L205.75,189.16 L206.42,189.21 L207.10,189.25 L207.78,189.30 L208.46,189.34 L209.13,189.38 L209.81,189.42 L210.49,189.46 L211.17,189.49 L211.84,189.53 L212.52,189.57 L213.20,189.60 L213.88,189.63 L214.55,189.67 L215.23,189.70 L215.91,189.73 L216.59,189.76 L217.26,189.79 L217.94,189.81 L218.62,189.84 L219.30,189.87 L219.97,189.89 L220.65,189.91 L221.33,189.94 L222.01,189.96 L222.68,189.98 L223.36,190.00 L224.04,190.02 L224.72,190.04 L225.39,190.06 L226.07,190.08 L226.75,190.09 L227.43,190.11 L228.10,190.12 L228.78,190.14 L229.46,190.15 L230.14,190.16 L230.81,190.18 L231.49,190.19 L232.17,190.20 L232.85,190.21 L233.52,190.22 L234.20,190.22 L234.88,190.23 L235.56,190.24 L236.23,190.24 L236.91,190.25 L237.59,190.25 L238.27,190.26 L238.94,190.26 L239.62,190.26 L240.30,190.26" stroke="#e0a040"/>
<path d="M37.40,36.09 L37.74,36.67 L38.08,37.26 L38.41,37.84 L38.75,38.43 L39.09,39.01 L39.43,39.59 L39.77,40.17 L40.11,40.74 L40.44,41.32 L40.78,41.90 L41.12,42.47 L41.46,43.05 L41.80,43.62 L42.13,44.19 L42.47,44.76 L42.81,45.33 L43.15,45.90 L43.49,46.46 L43.83,47.03 L44.16,47.59 L44.50,48.16 L44.84,48.72 L45.18,49.28 L45.52,49.84 L45.85,50.40 L46.19,50.96 L46.53,51.52 L46.87,52.07 L47.21,52.63 L47.55,53.18 L47.88,53.74 L48.22,54.29 L48.56,54.84 L48.90,55.39 L49.24,55.94 L49.57,56.49 L49.91,57.04 L50.25,57.58 L50.59,58.13 L50.93,58.67 L51.26,59.21 L51.94,60.30 L52.62,61.38 L53.30,62.46 L53.98,63.53 L54.65,64.60 L55.33,65.67 L56.01,66.73 L56.69,67.79 L57.36,68.85 L58.04,69.90 L58.72,70.95 L59.40,71.99 L60.07,73.03 L60.75,74.07 L61.43,75.10 L62.11,76.13 L62.78,77.16 L63.46,78.18 L64.14,79.20 L64.82,80.21 L65.49,81.23 L66.17,82.23 L66.85,83.24 L67.53,84.24 L68.20,85.24 L68.88,86.23 L69.56,87.22 L70.24,88.20 L70.91,89.19 L71.59,90.16 L72.27,91.14 L72.95,92.11 L73.62,93.08 L74.30,94.04 L74.98,95.00 L75.66,95.96 L76.33,96.91 L77.01,97.86 L77.69,98.80 L78.37,99.74 L79.04,100.68 L79.72,101.61 L80.40,102.54 L81.08,103.47 L81.75,104.39 L82.43,105.30 L83.11,106.22 L83.79,107.13 L84.46,108.03 L85.14,108.93 L85.82,109.83 L86.50,110.72 L87.17,111.61 L87.85,112.50 L88.53,113.38 L89.21,114.25 L89.88,115.12 L90.56,115.99 L91.24,116.85 L91.92,117.71 L92.60,118.57 L93.27,119.42 L93.95,120.26 L94.63,121.10 L95.31,121.94 L95.98,122.77 L96.66,123.60 L97.34,124.42 L98.02,125.24 L98.69,126.06 L99.37,126.86 L100.05,127.67 L100.73,128.47 L101.40,129.26 L102.08,130.05 L102.76,130.84 L103.44,131.62 L104.11,132.39 L104.79,133.16 L105.47,133.93 L106.15,134.69 L106.82,135.45 L107.50,136.20 L108.18,136.94 L108.86,137.68 L109.53,138.42 L110.21,139.15 L110.89,139.87 L111.57,140.59 L112.24,141.31 L112.92,142.02 L113.60,142.72 L114.28,143.42 L114.95,144.11 L115.63,144.80 L116.31,145.49 L116.99,146.16 L117.66,146.84 L118.34,147.50 L119.02,148.16 L119.70,148.82 L120.37,149.47 L121.05,150.11 L121.73,150.75 L122.41,151.38 L123.08,152.01 L123.76,152.63 L124.44,153.25 L125.12,153.86 L125.79,154.46 L126.47,155.05 L127.15,155.64 L127.83,156.23 L128.51,156.80 L129.18,157.37 L129.86,157.94 L130.54,158.49 L131.22,159.04 L131.89,159.59 L132.57,160.12 L133.25,160.66 L133.93,161.18 L134.60,161.70 L135.28,162.21 L135.96,162.71 L136.64,163.21 L137.31,163.70 L137.99,164.19 L138.67,164.66 L139.35,165.14 L140.02,165.60 L140.70,166.06 L141.38,166.51 L142.06,166.96 L142.73,167.40 L143.41,167.83 L144.09,168.25 L144.77,168.67 L145.44,169.09 L146.12,169.50 L146.80,169.90 L147.48,170.29 L148.15,170.68 L148.83,171.06 L149.51,171.44 L150.19,171.81 L150.86,172.18 L151.54,172.54 L152.22,172.89 L152.90,173.24 L153.57,173.58 L154.25,173.92 L154.93,174.25 L155.61,174.58 L156.28,174.90 L156.96,175.21 L157.64,175.52 L158.32,175.82 L158.99,176.12 L159.67,176.42 L160.35,176.71 L161.03,176.99 L161.70,177.27 L162.38,177.54 L163.06,177.81 L163.74,178.08 L164.41,178.34 L165.09,178.59 L165.77,178.84 L166.45,179.09 L167.13,179.33 L167.80,179.57 L168.48,179.80 L169.16,180.03 L169.84,180.26 L170.51,180.48 L171.19,180.69 L171.87,180.91 L172.55,181.11 L173.22,181.32 L173.90,181.52 L174.58,181.72 L175.26,181.91 L175.93,182.10 L176.61,182.29 L177.29,182.47 L177.97,182.65 L178.64,182.82 L179.32,182.99 L180.00,183.16 L180.68,183.33 L181.35,183.49 L182.03,183.65 L182.71,183.81 L183.39,183.96 L184.06,184.11 L184.74,184.26 L185.42,184.40 L186.10,184.54 L186.77,184.68 L187.45,184.82 L188.13,184.95 L188.81,185.08 L189.48,185.21 L190.16,185.34 L190.84,185.46 L191.52,185.58 L192.19,185.70 L192.87,185.82 L193.55,185.93 L194.23,186.04 L194.90,186.15 L195.58,186.26 L196.26,186.36 L196.94,186.46 L197.61,186.56 L198.29,186.66 L198.97,186.76 L199.65,186.85 L200.32,186.95 L201.00,187.04 L201.68,187.13 L202.36,187.21 L203.04,187.30 L203.71,187.38 L204.39,187.46 L205.07,187.54 L205.75,187.62 L206.42,187.70 L207.10,187.77 L207.78,187.85 L208.46,187.92 L209.13,187.99 L209.81,188.06 L210.49,188.12 L211.17,188.19 L211.84,188.25 L212.52,188.32 L213.20,188.38 L213.88,188.44 L214.55,188.50 L215.23,188.56 L215.91,188.61 L216.59,188.67 L217.26,188.72 L217.94,188.78 L218.62,188.83 L219.30,188.88 L219.97,188.93 L220.65,188.98 L221.33,189.02 L222.01,189.07 L222.68,189.12 L223.36,189.16 L224.04,189.20 L224.72,189.25 L225.39,189.29 L226.07,189.33 L226.75,189.37 L227.43,189.41 L228.10,189.44 L228.78,189.48 L229.46,189.52 L230.14,189.55 L230.81,189.58 L231.49,189.62 L232.17,189.65 L232.85,189.68 L233.52,189.71 L234.20,189.74 L234.88,189.77 L235.56,189.80 L236.23,189.83 L236.91,189.85 L237.59,189.88 L238.27,189.91 L238.94,189.93 L239.62,189.95 L240.30,189.98" stroke="#8c44a0"/>
<path d="M37.40,34.03 L37.74,34.54 L38.08,35.05 L38.41,35.56 L38.75,36.07 L39.09,36.57 L39.43,37.08 L39.77,37.59 L40.11,38.10 L40.44,38.60 L40.78,39.11 L41.12,39.62 L41.46,40.13 L41.80,40.64 L42.13,41.14 L42.47,41.65 L42.81,42.16 L43.15,42.67 L43.49,43.17 L43.83,43.68 L44.16,44.19 L44.50,44.69 L44.84,45.20 L45.18,45.71 L45.52,46.21 L45.85,46.72 L46.19,47.22 L46.53,47.73 L46.87,48.23 L47.21,48.74 L47.55,49.25 L47.88,49.75 L48.22,50.25 L48.56,50.76 L48.90,51.26 L49.24,51.77 L49.57,52.27 L49.91,52.77 L50.25,53.27 L50.59,53.78 L50.93,54.28 L51.26,54.78 L51.94,55.78 L52.62,56.79 L53.30,57.79 L53.98,58.79 L54.65,59.79 L55.33,60.78 L56.01,61.78 L56.69,62.77 L57.36,63.76 L58.04,64.75 L58.72,65.73 L59.40,66.72 L60.07,67.70 L60.75,68.68 L61.43,69.66 L62.11,70.63 L62.78,71.60 L63.46,72.57 L64.14,73.54 L64.82,74.51 L65.49,75.47 L66.17,76.43 L66.85,77.38 L67.53,78.34 L68.20,79.29 L68.88,80.24 L69.56,81.18 L70.24,82.12 L70.91,83.06 L71.59,84.00 L72.27,84.93 L72.95,85.86 L73.62,86.78 L74.30,87.70 L74.98,88.62 L75.66,89.54 L76.33,90.45 L77.01,91.36 L77.69,92.26 L78.37,93.16 L79.04,94.06 L79.72,94.96 L80.40,95.85 L81.08,96.74 L81.75,97.63 L82.43,98.51 L83.11,99.39 L83.79,100.26 L84.46,101.13 L85.14,102.00 L85.82,102.87 L86.50,103.73 L87.17,104.59 L87.85,105.45 L88.53,106.30 L89.21,107.15 L89.88,107.99 L90.56,108.84 L91.24,109.67 L91.92,110.51 L92.60,111.34 L93.27,112.17 L93.95,112.99 L94.63,113.82 L95.31,114.63 L95.98,115.45 L96.66,116.26 L97.34,117.07 L98.02,117.87 L98.69,118.67 L99.37,119.47 L100.05,120.26 L100.73,121.05 L101.40,121.83 L102.08,122.61 L102.76,123.39 L103.44,124.17 L104.11,124.94 L104.79,125.70 L105.47,126.47 L106.15,127.22 L106.82,127.98 L107.50,128.73 L108.18,129.48 L108.86,130.22 L109.53,130.96 L110.21,131.69 L110.89,132.42 L111.57,133.15 L112.24,133.87 L112.92,134.59 L113.60,135.30 L114.28,136.01 L114.95,136.72 L115.63,137.42 L116.31,138.12 L116.99,138.81 L117.66,139.50 L118.34,140.18 L119.02,140.86 L119.70,141.54 L120.37,142.21 L121.05,142.88 L121.73,143.54 L122.41,144.19 L123.08,144.84 L123.76,145.49 L124.44,146.13 L125.12,146.77 L125.79,147.40 L126.47,148.03 L127.15,148.65 L127.83,149.26 L128.51,149.87 L129.18,150.47 L129.86,151.07 L130.54,151.67 L131.22,152.25 L131.89,152.84 L132.57,153.41 L133.25,153.98 L133.93,154.55 L134.60,155.11 L135.28,155.66 L135.96,156.21 L136.64,156.75 L137.31,157.28 L137.99,157.81 L138.67,158.34 L139.35,158.85 L140.02,159.37 L140.70,159.87 L141.38,160.37 L142.06,160.87 L142.73,161.36 L143.41,161.84 L144.09,162.32 L144.77,162.79 L145.44,163.25 L146.12,163.71 L146.80,164.17 L147.48,164.62 L148.15,165.06 L148.83,165.50 L149.51,165.93 L150.19,166.35 L150.86,166.77 L151.54,167.19 L152.22,167.60 L152.90,168.00 L153.57,168.40 L154.25,168.79 L154.93,169.18 L155.61,169.56 L156.28,169.94 L156.96,170.31 L157.64,170.68 L158.32,171.04 L158.99,171.39 L159.67,171.74 L160.35,172.09 L161.03,172.43 L161.70,172.77 L162.38,173.10 L163.06,173.42 L163.74,173.74 L164.41,174.06 L165.09,174.37 L165.77,174.68 L166.45,174.98 L167.13,175.28 L167.80,175.57 L168.48,175.86 L169.16,176.14 L169.84,176.42 L170.51,176.69 L171.19,176.97 L171.87,177.23 L172.55,177.49 L173.22,177.75 L173.90,178.01 L174.58,178.26 L175.26,178.50 L175.93,178.74 L176.61,178.98 L177.29,179.22 L177.97,179.45 L178.64,179.67 L179.32,179.90 L180.00,180.11 L180.68,180.33 L181.35,180.54 L182.03,180.75 L182.71,180.95 L183.39,181.16 L184.06,181.35 L184.74,181.55 L185.42,181.74 L186.10,181.93 L186.77,182.11 L187.45,182.29 L188.13,182.47 L188.81,182.65 L189.48,182.82 L190.16,182.99 L190.84,183.16 L191.52,183.32 L192.19,183.48 L192.87,183.64 L193.55,183.80 L194.23,183.95 L194.90,184.10 L195.58,184.25 L196.26,184.39 L196.94,184.53 L197.61,184.67 L198.29,184.81 L198.97,184.94 L199.65,185.08 L200.32,185.21 L201.00,185.33 L201.68,185.46 L202.36,185.58 L203.04,185.70 L203.71,185.82 L204.39,185.94 L205.07,186.05 L205.75,186.17 L206.42,186.28 L207.10,186.38 L207.78,186.49 L208.46,186.59 L209.13,186.70 L209.81,186.80 L210.49,186.90 L211.17,186.99 L211.84,187.09 L212.52,187.18 L213.20,187.28 L213.88,187.37 L214.55,187.45 L215.23,187.54 L215.91,187.63 L216.59,187.71 L217.26,187.79 L217.94,187.87 L218.62,187.95 L219.30,188.03 L219.97,188.11 L220.65,188.18 L221.33,188.25 L222.01,188.33 L222.68,188.40 L223.36,188.47 L224.04,188.53 L224.72,188.60 L225.39,188.67 L226.07,188.73 L226.75,188.79 L227.43,188.86 L228.10,188.92 L228.78,188.98 L229.46,189.04 L230.14,189.09 L230.81,189.15 L231.49,189.20 L232.17,189.26 L232.85,189.31 L233.52,189.36 L234.20,189.42 L234.88,189.47 L235.56,189.52 L236.23,189.56 L236.91,189.61 L237.59,189.66 L238.27,189.70 L238.94,189.75 L239.62,189.79 L240.30,189.84" stroke="#d24b4b"/>
</g>
<rect x="37.4" y="34.6" width="202.9" height="159.3" fill="none" stroke="#4a4a4a" stroke-width="1.0"/>
<line x1="37.4" y1="193.9" x2="37.4" y2="191.2" stroke="#4a4a4a" stroke-width="1.0"/>
<line x1="37.4" y1="34.6" x2="37.4" y2="37.3" stroke="#4a4a4a" stroke-width="1.0"/>
<line x1="105.03" y1="193.9" x2="105.03" y2="191.2" stroke="#4a4a4a" stroke-width="1.0"/>
<line x1="105.03" y1="34.6" x2="105.03" y2="37.3" stroke="#4a4a4a" stroke-width="1.0"/>
<line x1="172.67" y1="193.9" x2="172.67" y2="191.2" stroke="#4a4a4a" stroke-width="1.0"/>
<line x1="172.67" y1="34.6" x2="172.67" y2="37.3" stroke="#4a4a4a" stroke-width="1.0"/>
<line x1="240.3" y1="193.9" x2="240.3" y2="191.2" stroke="#4a4a4a" stroke-width="1.0"/>
<line x1="240.3" y1="34.6" x2="240.3" y2="37.3" stroke="#4a4a4a" stroke-width="1.0"/>
<line x1="71.22" y1="193.9" x2="71.22" y2="192.4" stroke="#4a4a4a" stroke-width="1.0"/>
<line x1="71.22" y1="34.6" x2="71.22" y2="36.1" stroke="#4a4a4a" stroke-width="1.0"/>
<line x1="138.85" y1="193.9" x2="138.85" y2="192.4" stroke="#4a4a4a" stroke-width="1.0"/>
<line x1="138.85" y1="34.6" x2="138.85" y2="36.1" stroke="#4a4a4a" stroke-width="1.0"/>
<line x1="206.48" y1="193.9" x2="206.48" y2="192.4" stroke="#4a4a4a" stroke-width="1.0"/>
<line x1="206.48" y1="34.6" x2="206.48" y2="36.1" stroke="#4a4a4a" stroke-width="1.0"/>
<line x1="37.4" y1="193.9" x2="40.1" y2="193.9" stroke="#4a4a4a" stroke-width="1.0"/>
<line x1="240.3" y1="193.9" x2="237.6" y2="193.9" stroke="#4a4a4a" stroke-width="1.0"/>
<line x1="37.4" y1="162.04" x2="40.1" y2="162.04" stroke="#4a4a4a" stroke-width="1.0"/>
<line x1="240.3" y1="162.04" x2="237.6" y2="162.04" stroke="#4a4a4a" stroke-width="1.0"/>
<line x1="37.4" y1="130.18" x2="40.1" y2="130.18" stroke="#4a4a4a" stroke-width="1.0"/>
<line x1="240.3" y1="130.18" x2="237.6" y2="130.18" stroke="#4a4a4a" stroke-width="1.0"/>
<line x1="37.4" y1="98.32" x2="40.1" y2="98.32" stroke="#4a4a4a" stroke-width="1.0"/>
<line x1="240.3" y1="98.32" x2="237.6" y2="98.32" stroke="#4a4a4a" stroke-width="1.0"/>
<line x1="37.4" y1="66.46" x2="40.1" y2="66.46" stroke="#4a4a4a" stroke-width="1.0"/>
<line x1="240.3" y1="66.46" x2="237.6" y2="66.46" stroke="#4a4a4a" stroke-width="1.0"/>
<line x1="37.4" y1="34.6" x2="40.1" y2="34.6" stroke="#4a4a4a" stroke-width="1.0"/>
<line x1="240.3" y1="34.6" x2="237.6" y2="34.6" stroke="#4a4a4a" stroke-width="1.0"/>
<line x1="37.4" y1="177.97" x2="38.9" y2="177.97" stroke="#4a4a4a" stroke-width="1.0"/>
<line x1="240.3" y1="177.97" x2="238.8" y2="177.97" stroke="#4a4a4a" stroke-width="1.0"/>
<line x1="37.4" y1="146.11" x2="38.9" y2="146.11" stroke="#4a4a4a" stroke-width="1.0"/>
<line x1="240.3" y1="146.11" x2="238.8" y2="146.11" stroke="#4a4a4a" stroke-width="1.0"/>
<line x1="37.4" y1="114.25" x2="38.9" y2="114.25" stroke="#4a4a4a" stroke-width="1.0"/>
<line x1="240.3" y1="114.25" x2="238.8" y2="114.25" stroke="#4a4a4a" stroke-width="1.0"/>
<line x1="37.4" y1="82.39" x2="38.9" y2="82.39" stroke="#4a4a4a" stroke-width="1.0"/>
<line x1="240.3" y1="82.39" x2="238.8" y2="82.39" stroke="#4a4a4a" stroke-width="1.0"/>
<line x1="37.4" y1="50.53" x2="38.9" y2="50.53" stroke="#4a4a4a" stroke-width="1.0"/>
<line x1="240.3" y1="50.53" x2="238.8" y2="50.53" stroke="#4a4a4a" stroke-width="1.0"/>
<rect x="169.4" y="42.1" width="64.4" height="120.2" fill="none" stroke="#808080" stroke-width="1.0"/>
<line x1="170.4" y1="49.5" x2="188.2" y2="49.5" stroke="#d24b4b" stroke-width="1.2"/>
<text transform="translate(190.08 52.74) scale(0.975 1)" font-size="10.75" font-weight="bold" font-style="normal" fill="#111" >-800 m<tspan dx="1.44">V</tspan></text>
<line x1="170.4" y1="62.5" x2="188.2" y2="62.5" stroke="#8c44a0" stroke-width="1.2"/>
<text transform="translate(190.08 66.1) scale(0.975 1)" font-size="10.75" font-weight="bold" font-style="normal" fill="#111" >-600 m<tspan dx="1.44">V</tspan></text>
<line x1="170.4" y1="75.5" x2="188.2" y2="75.5" stroke="#e0a040" stroke-width="1.2"/>
<text transform="translate(190.08 79.46) scale(0.975 1)" font-size="10.75" font-weight="bold" font-style="normal" fill="#111" >-400 m<tspan dx="1.44">V</tspan></text>
<line x1="170.4" y1="89.5" x2="188.2" y2="89.5" stroke="#7a2a3c" stroke-width="1.2"/>
<text transform="translate(190.08 92.82) scale(0.975 1)" font-size="10.75" font-weight="bold" font-style="normal" fill="#111" >-200 m<tspan dx="1.44">V</tspan></text>
<line x1="170.4" y1="102.5" x2="188.2" y2="102.5" stroke="#2a2a2a" stroke-width="1.2"/>
<text transform="translate(192.58 106.18) scale(0.975 1)" font-size="10.75" font-weight="bold" font-style="normal" fill="#111" >+30 m<tspan dx="1.44">V</tspan></text>
<line x1="170.4" y1="116.5" x2="188.2" y2="116.5" stroke="#55dede" stroke-width="1.2"/>
<text transform="translate(190.68 119.54) scale(0.975 1)" font-size="10.75" font-weight="bold" font-style="normal" fill="#111" >+200 m<tspan dx="1.44">V</tspan></text>
<line x1="170.4" y1="129.5" x2="188.2" y2="129.5" stroke="#44dd44" stroke-width="1.2"/>
<text transform="translate(190.68 132.9) scale(0.975 1)" font-size="10.75" font-weight="bold" font-style="normal" fill="#111" >+400 m<tspan dx="1.44">V</tspan></text>
<line x1="170.4" y1="142.5" x2="188.2" y2="142.5" stroke="#2e7d32" stroke-width="1.2"/>
<text transform="translate(190.68 146.26) scale(0.975 1)" font-size="10.75" font-weight="bold" font-style="normal" fill="#111" >+600 m<tspan dx="1.44">V</tspan></text>
<line x1="170.4" y1="156.5" x2="188.2" y2="156.5" stroke="#3636c0" stroke-width="1.2"/>
<text transform="translate(190.68 159.62) scale(0.975 1)" font-size="10.75" font-weight="bold" font-style="normal" fill="#111" >+800 m<tspan dx="1.44">V</tspan></text>
<text transform="translate(21.9 15.81) scale(1.058 1)" font-size="19.00" font-weight="bold" font-style="normal" fill="#111" >(a)</text>
<text transform="translate(19.44 197.04) scale(1.047 1)" font-size="11.49" font-weight="bold" font-style="normal" fill="#111" >0.0</text>
<text transform="translate(19.44 165.18) scale(1.047 1)" font-size="11.49" font-weight="bold" font-style="normal" fill="#111" >0.2</text>
<text transform="translate(19.2 133.32) scale(1.047 1)" font-size="11.49" font-weight="bold" font-style="normal" fill="#111" >0.4</text>
<text transform="translate(19.32 101.46) scale(1.047 1)" font-size="11.49" font-weight="bold" font-style="normal" fill="#111" >0.6</text>
<text transform="translate(19.32 69.6) scale(1.047 1)" font-size="11.49" font-weight="bold" font-style="normal" fill="#111" >0.8</text>
<text transform="translate(19.44 37.74) scale(1.047 1)" font-size="11.49" font-weight="bold" font-style="normal" fill="#111" >1.0</text>
<text transform="translate(34.42 206.39) scale(1.049 1)" font-size="11.34" font-weight="bold" font-style="normal" fill="#111" >0</text>
<text transform="translate(95.87 206.39) scale(1.049 1)" font-size="11.34" font-weight="bold" font-style="normal" fill="#111" >100</text>
<text transform="translate(163.74 206.39) scale(1.049 1)" font-size="11.34" font-weight="bold" font-style="normal" fill="#111" >200</text>
<text transform="translate(231.37 206.39) scale(1.049 1)" font-size="11.34" font-weight="bold" font-style="normal" fill="#111" >300</text>
<text transform="translate(56.33 222.78) scale(0.943 1)" font-size="13.26" font-weight="bold" font-style="normal" fill="#111" >In-plane magnetic field (kA/m)</text>
<text transform="translate(11.2 156.4) rotate(-90) translate(-0.22 0) scale(0.852 1)" font-size="13.14" font-weight="bold" fill="#111">Normalized TMR</text>
<rect x="297.5" y="35.9" width="206.9" height="158.2" fill="none" stroke="#4a4a4a" stroke-width="1.0"/>
<line x1="318.19" y1="194.1" x2="318.19" y2="191.4" stroke="#4a4a4a" stroke-width="1.0"/>
<line x1="318.19" y1="35.9" x2="318.19" y2="38.6" stroke="#4a4a4a" stroke-width="1.0"/>
<line x1="359.57" y1="194.1" x2="359.57" y2="191.4" stroke="#4a4a4a" stroke-width="1.0"/>
<line x1="359.57" y1="35.9" x2="359.57" y2="38.6" stroke="#4a4a4a" stroke-width="1.0"/>
<line x1="400.95" y1="194.1" x2="400.95" y2="191.4" stroke="#4a4a4a" stroke-width="1.0"/>
<line x1="400.95" y1="35.9" x2="400.95" y2="38.6" stroke="#4a4a4a" stroke-width="1.0"/>
<line x1="442.33" y1="194.1" x2="442.33" y2="191.4" stroke="#4a4a4a" stroke-width="1.0"/>
<line x1="442.33" y1="35.9" x2="442.33" y2="38.6" stroke="#4a4a4a" stroke-width="1.0"/>
<line x1="483.71" y1="194.1" x2="483.71" y2="191.4" stroke="#4a4a4a" stroke-width="1.0"/>
<line x1="483.71" y1="35.9" x2="483.71" y2="38.6" stroke="#4a4a4a" stroke-width="1.0"/>
<line x1="338.88" y1="194.1" x2="338.88" y2="192.6" stroke="#4a4a4a" stroke-width="1.0"/>
<line x1="338.88" y1="35.9" x2="338.88" y2="37.4" stroke="#4a4a4a" stroke-width="1.0"/>
<line x1="380.26" y1="194.1" x2="380.26" y2="192.6" stroke="#4a4a4a" stroke-width="1.0"/>
<line x1="380.26" y1="35.9" x2="380.26" y2="37.4" stroke="#4a4a4a" stroke-width="1.0"/>
<line x1="421.64" y1="194.1" x2="421.64" y2="192.6" stroke="#4a4a4a" stroke-width="1.0"/>
<line x1="421.64" y1="35.9" x2="421.64" y2="37.4" stroke="#4a4a4a" stroke-width="1.0"/>
<line x1="463.02" y1="194.1" x2="463.02" y2="192.6" stroke="#4a4a4a" stroke-width="1.0"/>
<line x1="463.02" y1="35.9" x2="463.02" y2="37.4" stroke="#4a4a4a" stroke-width="1.0"/>
<line x1="297.5" y1="184.21" x2="300.2" y2="184.21" stroke="#4a4a4a" stroke-width="1.0"/>
<line x1="504.4" y1="184.21" x2="501.7" y2="184.21" stroke="#4a4a4a" stroke-width="1.0"/>
<line x1="297.5" y1="164.44" x2="300.2" y2="164.44" stroke="#4a4a4a" stroke-width="1.0"/>
<line x1="504.4" y1="164.44" x2="501.7" y2="164.44" stroke="#4a4a4a" stroke-width="1.0"/>
<line x1="297.5" y1="144.66" x2="300.2" y2="144.66" stroke="#4a4a4a" stroke-width="1.0"/>
<line x1="504.4" y1="144.66" x2="501.7" y2="144.66" stroke="#4a4a4a" stroke-width="1.0"/>
<line x1="297.5" y1="124.89" x2="300.2" y2="124.89" stroke="#4a4a4a" stroke-width="1.0"/>
<line x1="504.4" y1="124.89" x2="501.7" y2="124.89" stroke="#4a4a4a" stroke-width="1.0"/>
<line x1="297.5" y1="105.11" x2="300.2" y2="105.11" stroke="#4a4a4a" stroke-width="1.0"/>
<line x1="504.4" y1="105.11" x2="501.7" y2="105.11" stroke="#4a4a4a" stroke-width="1.0"/>
<line x1="297.5" y1="85.34" x2="300.2" y2="85.34" stroke="#4a4a4a" stroke-width="1.0"/>
<line x1="504.4" y1="85.34" x2="501.7" y2="85.34" stroke="#4a4a4a" stroke-width="1.0"/>
<line x1="297.5" y1="65.56" x2="300.2" y2="65.56" stroke="#4a4a4a" stroke-width="1.0"/>
<line x1="504.4" y1="65.56" x2="501.7" y2="65.56" stroke="#4a4a4a" stroke-width="1.0"/>
<line x1="297.5" y1="45.79" x2="300.2" y2="45.79" stroke="#4a4a4a" stroke-width="1.0"/>
<line x1="504.4" y1="45.79" x2="501.7" y2="45.79" stroke="#4a4a4a" stroke-width="1.0"/>
<line x1="297.5" y1="174.32" x2="299" y2="174.32" stroke="#4a4a4a" stroke-width="1.0"/>
<line x1="504.4" y1="174.32" x2="502.9" y2="174.32" stroke="#4a4a4a" stroke-width="1.0"/>
<line x1="297.5" y1="154.55" x2="299" y2="154.55" stroke="#4a4a4a" stroke-width="1.0"/>
<line x1="504.4" y1="154.55" x2="502.9" y2="154.55" stroke="#4a4a4a" stroke-width="1.0"/>
<line x1="297.5" y1="134.78" x2="299" y2="134.78" stroke="#4a4a4a" stroke-width="1.0"/>
<line x1="504.4" y1="134.78" x2="502.9" y2="134.78" stroke="#4a4a4a" stroke-width="1.0"/>
<line x1="297.5" y1="115" x2="299" y2="115" stroke="#4a4a4a" stroke-width="1.0"/>
<line x1="504.4" y1="115" x2="502.9" y2="115" stroke="#4a4a4a" stroke-width="1.0"/>
<line x1="297.5" y1="95.22" x2="299" y2="95.22" stroke="#4a4a4a" stroke-width="1.0"/>
<line x1="504.4" y1="95.22" x2="502.9" y2="95.22" stroke="#4a4a4a" stroke-width="1.0"/>
<line x1="297.5" y1="75.45" x2="299" y2="75.45" stroke="#4a4a4a" stroke-width="1.0"/>
<line x1="504.4" y1="75.45" x2="502.9" y2="75.45" stroke="#4a4a4a" stroke-width="1.0"/>
<line x1="297.5" y1="55.68" x2="299" y2="55.68" stroke="#4a4a4a" stroke-width="1.0"/>
<line x1="504.4" y1="55.68" x2="502.9" y2="55.68" stroke="#4a4a4a" stroke-width="1.0"/>
<line x1="311.5" y1="47.1" x2="494.5" y2="172" stroke="#222" stroke-width="1.0"/>
<circle cx="324.7" cy="56.8" r="5.1" fill="#000"/>
<circle cx="343.8" cy="69.5" r="5.1" fill="#000"/>
<circle cx="362.8" cy="81.2" r="5.1" fill="#000"/>
<circle cx="381.4" cy="93.0" r="5.1" fill="#000"/>
<circle cx="405.6" cy="105.7" r="5.1" fill="#000"/>
<circle cx="419.6" cy="118.5" r="5.1" fill="#000"/>
<circle cx="439.0" cy="133.0" r="5.1" fill="#000"/>
<circle cx="458.3" cy="148.0" r="5.1" fill="#000"/>
<circle cx="477.3" cy="160.0" r="5.1" fill="#000"/>
<text transform="translate(335.89 54.91) scale(1.096 1)" font-size="9.30" font-weight="bold" font-style="normal" fill="#111" >-138 fJ/V<tspan dx="0.64">m</tspan></text>
<text transform="translate(257.72 15.56) scale(1.018 1)" font-size="19.22" font-weight="bold" font-style="normal" fill="#111" >(b)</text>
<text transform="translate(268.79 188.13) scale(1.074 1)" font-size="13.13" font-weight="bold" font-style="normal" fill="#111" >0.04</text>
<text transform="translate(268.94 168.36) scale(1.074 1)" font-size="13.13" font-weight="bold" font-style="normal" fill="#111" >0.06</text>
<text transform="translate(268.94 148.58) scale(1.074 1)" font-size="13.13" font-weight="bold" font-style="normal" fill="#111" >0.08</text>
<text transform="translate(269.08 128.81) scale(1.074 1)" font-size="13.13" font-weight="bold" font-style="normal" fill="#111" >0.10</text>
<text transform="translate(269.08 109.03) scale(1.074 1)" font-size="13.13" font-weight="bold" font-style="normal" fill="#111" >0.12</text>
<text transform="translate(268.79 89.26) scale(1.074 1)" font-size="13.13" font-weight="bold" font-style="normal" fill="#111" >0.14</text>
<text transform="translate(268.94 69.48) scale(1.074 1)" font-size="13.13" font-weight="bold" font-style="normal" fill="#111" >0.16</text>
<text transform="translate(268.94 49.71) scale(1.074 1)" font-size="13.13" font-weight="bold" font-style="normal" fill="#111" >0.18</text>
<text transform="translate(305.12 208.38) scale(1.196 1)" font-size="11.94" font-weight="bold" font-style="normal" fill="#111" >-400</text>
<text transform="translate(346.5 208.38) scale(1.196 1)" font-size="11.94" font-weight="bold" font-style="normal" fill="#111" >-200</text>
<text transform="translate(397.38 208.38) scale(1.196 1)" font-size="11.94" font-weight="bold" font-style="normal" fill="#111" >0</text>
<text transform="translate(431.62 208.38) scale(1.196 1)" font-size="11.94" font-weight="bold" font-style="normal" fill="#111" >200</text>
<text transform="translate(473.21 208.38) scale(1.196 1)" font-size="11.94" font-weight="bold" font-style="normal" fill="#111" >400</text>
<text transform="translate(339.52 225.46) scale(1.039 1)" font-size="13.52" font-weight="bold" font-style="normal" fill="#111" >Electric field (V/nm)</text>
<text transform="translate(261.5 164.8) rotate(-90) scale(1.090 1)" font-size="13.00" font-weight="bold" fill="#111"><tspan font-style="italic">K</tspan><tspan font-size="8.06" dy="2.86">PMA</tspan><tspan font-style="italic" dy="-2.86">t</tspan><tspan font-size="8.06" dy="2.86">free</tspan><tspan dy="-2.86"> (mJ/m</tspan><tspan font-size="8.06" dy="-4.94">2</tspan><tspan dy="4.94">)</tspan></text>
<rect x="42.4" y="257.7" width="206.8" height="158.5" fill="none" stroke="#4a4a4a" stroke-width="1.0"/>
<line x1="42.4" y1="416.2" x2="42.4" y2="413.5" stroke="#4a4a4a" stroke-width="1.0"/>
<line x1="42.4" y1="257.7" x2="42.4" y2="260.4" stroke="#4a4a4a" stroke-width="1.0"/>
<line x1="76.87" y1="416.2" x2="76.87" y2="413.5" stroke="#4a4a4a" stroke-width="1.0"/>
<line x1="76.87" y1="257.7" x2="76.87" y2="260.4" stroke="#4a4a4a" stroke-width="1.0"/>
<line x1="111.33" y1="416.2" x2="111.33" y2="413.5" stroke="#4a4a4a" stroke-width="1.0"/>
<line x1="111.33" y1="257.7" x2="111.33" y2="260.4" stroke="#4a4a4a" stroke-width="1.0"/>
<line x1="145.8" y1="416.2" x2="145.8" y2="413.5" stroke="#4a4a4a" stroke-width="1.0"/>
<line x1="145.8" y1="257.7" x2="145.8" y2="260.4" stroke="#4a4a4a" stroke-width="1.0"/>
<line x1="180.27" y1="416.2" x2="180.27" y2="413.5" stroke="#4a4a4a" stroke-width="1.0"/>
<line x1="180.27" y1="257.7" x2="180.27" y2="260.4" stroke="#4a4a4a" stroke-width="1.0"/>
<line x1="214.73" y1="416.2" x2="214.73" y2="413.5" stroke="#4a4a4a" stroke-width="1.0"/>
<line x1="214.73" y1="257.7" x2="214.73" y2="260.4" stroke="#4a4a4a" stroke-width="1.0"/>
<line x1="249.2" y1="416.2" x2="249.2" y2="413.5" stroke="#4a4a4a" stroke-width="1.0"/>
<line x1="249.2" y1="257.7" x2="249.2" y2="260.4" stroke="#4a4a4a" stroke-width="1.0"/>
<line x1="59.63" y1="416.2" x2="59.63" y2="414.7" stroke="#4a4a4a" stroke-width="1.0"/>
<line x1="59.63" y1="257.7" x2="59.63" y2="259.2" stroke="#4a4a4a" stroke-width="1.0"/>
<line x1="94.1" y1="416.2" x2="94.1" y2="414.7" stroke="#4a4a4a" stroke-width="1.0"/>
<line x1="94.1" y1="257.7" x2="94.1" y2="259.2" stroke="#4a4a4a" stroke-width="1.0"/>
<line x1="128.57" y1="416.2" x2="128.57" y2="414.7" stroke="#4a4a4a" stroke-width="1.0"/>
<line x1="128.57" y1="257.7" x2="128.57" y2="259.2" stroke="#4a4a4a" stroke-width="1.0"/>
<line x1="163.03" y1="416.2" x2="163.03" y2="414.7" stroke="#4a4a4a" stroke-width="1.0"/>
<line x1="163.03" y1="257.7" x2="163.03" y2="259.2" stroke="#4a4a4a" stroke-width="1.0"/>
<line x1="197.5" y1="416.2" x2="197.5" y2="414.7" stroke="#4a4a4a" stroke-width="1.0"/>
<line x1="197.5" y1="257.7" x2="197.5" y2="259.2" stroke="#4a4a4a" stroke-width="1.0"/>
<line x1="231.97" y1="416.2" x2="231.97" y2="414.7" stroke="#4a4a4a" stroke-width="1.0"/>
<line x1="231.97" y1="257.7" x2="231.97" y2="259.2" stroke="#4a4a4a" stroke-width="1.0"/>
<line x1="42.4" y1="416.2" x2="45.1" y2="416.2" stroke="#4a4a4a" stroke-width="1.0"/>
<line x1="249.2" y1="416.2" x2="246.5" y2="416.2" stroke="#4a4a4a" stroke-width="1.0"/>
<line x1="42.4" y1="384.5" x2="45.1" y2="384.5" stroke="#4a4a4a" stroke-width="1.0"/>
<line x1="249.2" y1="384.5" x2="246.5" y2="384.5" stroke="#4a4a4a" stroke-width="1.0"/>
<line x1="42.4" y1="352.8" x2="45.1" y2="352.8" stroke="#4a4a4a" stroke-width="1.0"/>
<line x1="249.2" y1="352.8" x2="246.5" y2="352.8" stroke="#4a4a4a" stroke-width="1.0"/>
<line x1="42.4" y1="321.1" x2="45.1" y2="321.1" stroke="#4a4a4a" stroke-width="1.0"/>
<line x1="249.2" y1="321.1" x2="246.5" y2="321.1" stroke="#4a4a4a" stroke-width="1.0"/>
<line x1="42.4" y1="289.4" x2="45.1" y2="289.4" stroke="#4a4a4a" stroke-width="1.0"/>
<line x1="249.2" y1="289.4" x2="246.5" y2="289.4" stroke="#4a4a4a" stroke-width="1.0"/>
<line x1="42.4" y1="257.7" x2="45.1" y2="257.7" stroke="#4a4a4a" stroke-width="1.0"/>
<line x1="249.2" y1="257.7" x2="246.5" y2="257.7" stroke="#4a4a4a" stroke-width="1.0"/>
<line x1="42.4" y1="400.35" x2="43.9" y2="400.35" stroke="#4a4a4a" stroke-width="1.0"/>
<line x1="249.2" y1="400.35" x2="247.7" y2="400.35" stroke="#4a4a4a" stroke-width="1.0"/>
<line x1="42.4" y1="368.65" x2="43.9" y2="368.65" stroke="#4a4a4a" stroke-width="1.0"/>
<line x1="249.2" y1="368.65" x2="247.7" y2="368.65" stroke="#4a4a4a" stroke-width="1.0"/>
<line x1="42.4" y1="336.95" x2="43.9" y2="336.95" stroke="#4a4a4a" stroke-width="1.0"/>
<line x1="249.2" y1="336.95" x2="247.7" y2="336.95" stroke="#4a4a4a" stroke-width="1.0"/>
<line x1="42.4" y1="305.25" x2="43.9" y2="305.25" stroke="#4a4a4a" stroke-width="1.0"/>
<line x1="249.2" y1="305.25" x2="247.7" y2="305.25" stroke="#4a4a4a" stroke-width="1.0"/>
<line x1="42.4" y1="273.55" x2="43.9" y2="273.55" stroke="#4a4a4a" stroke-width="1.0"/>
<line x1="249.2" y1="273.55" x2="247.7" y2="273.55" stroke="#4a4a4a" stroke-width="1.0"/>
<line x1="64.24" y1="379.72" x2="141.19" y2="335.93" stroke="#857d7d" stroke-width="0.85"/>
<line x1="151.02" y1="332.38" x2="226.75" y2="318.89" stroke="#857d7d" stroke-width="0.85"/>
<line x1="64.63" y1="346.66" x2="140.8" y2="319.7" stroke="#cc8c8c" stroke-width="0.85"/>
<line x1="151.04" y1="317.12" x2="226.73" y2="305.34" stroke="#cc8c8c" stroke-width="0.85"/>
<line x1="64.86" y1="324.48" x2="140.58" y2="311.47" stroke="#9a90d0" stroke-width="0.85"/>
<line x1="151.1" y1="310.35" x2="226.67" y2="307.18" stroke="#9a90d0" stroke-width="0.85"/>
<line x1="64.93" y1="321.9" x2="140.51" y2="317.95" stroke="#9cd89c" stroke-width="0.85"/>
<line x1="151.1" y1="317.59" x2="226.67" y2="316.37" stroke="#9cd89c" stroke-width="0.85"/>
<circle cx="59.63" cy="382.34" r="3.9" fill="#000000"/>
<circle cx="145.80" cy="333.30" r="3.9" fill="#000000"/>
<circle cx="231.97" cy="317.96" r="3.9" fill="#000000"/>
<circle cx="59.63" cy="348.43" r="3.9" fill="#ee1111"/>
<circle cx="145.80" cy="317.93" r="3.9" fill="#ee1111"/>
<circle cx="231.97" cy="304.52" r="3.9" fill="#ee1111"/>
<circle cx="59.63" cy="325.38" r="3.9" fill="#1111dd"/>
<circle cx="145.80" cy="310.58" r="3.9" fill="#1111dd"/>
<circle cx="231.97" cy="306.96" r="3.9" fill="#1111dd"/>
<circle cx="59.63" cy="322.18" r="3.9" fill="#22ee22"/>
<circle cx="145.80" cy="317.68" r="3.9" fill="#22ee22"/>
<circle cx="231.97" cy="316.28" r="3.9" fill="#22ee22"/>
<rect x="185.2" y="348.7" width="48.4" height="54.7" fill="none" stroke="#808080" stroke-width="1.0"/>
<line x1="186.8" y1="357.15" x2="189.4" y2="357.15" stroke="#857d7d" stroke-width="1.0"/>
<line x1="200.4" y1="357.15" x2="203.2" y2="357.15" stroke="#857d7d" stroke-width="1.0"/>
<circle cx="195" cy="357.15" r="4" fill="#000000"/>
<text transform="translate(206.1 360.16) scale(1.089 1)" font-size="9.25" font-weight="bold" font-style="normal" fill="#111" >200°C</text>
<line x1="186.8" y1="370.65" x2="189.4" y2="370.65" stroke="#cc8c8c" stroke-width="1.0"/>
<line x1="200.4" y1="370.65" x2="203.2" y2="370.65" stroke="#cc8c8c" stroke-width="1.0"/>
<circle cx="195" cy="370.65" r="4" fill="#ee1111"/>
<text transform="translate(206.1 373.66) scale(1.089 1)" font-size="9.25" font-weight="bold" font-style="normal" fill="#111" >250°C</text>
<line x1="186.8" y1="384.15" x2="189.4" y2="384.15" stroke="#9a90d0" stroke-width="1.0"/>
<line x1="200.4" y1="384.15" x2="203.2" y2="384.15" stroke="#9a90d0" stroke-width="1.0"/>
<circle cx="195" cy="384.15" r="4" fill="#1111dd"/>
<text transform="translate(206.1 387.16) scale(1.089 1)" font-size="9.25" font-weight="bold" font-style="normal" fill="#111" >300°C</text>
<line x1="186.8" y1="397.65" x2="189.4" y2="397.65" stroke="#9cd89c" stroke-width="1.0"/>
<line x1="200.4" y1="397.65" x2="203.2" y2="397.65" stroke="#9cd89c" stroke-width="1.0"/>
<circle cx="195" cy="397.65" r="4" fill="#22ee22"/>
<text transform="translate(206.1 400.66) scale(1.089 1)" font-size="9.25" font-weight="bold" font-style="normal" fill="#111" >350°C</text>
<text transform="translate(21.9 244.26) scale(1.046 1)" font-size="19.22" font-weight="bold" font-style="normal" fill="#111" >(c)</text>
<text transform="translate(25.64 418.91) scale(1.155 1)" font-size="8.96" font-weight="bold" font-style="normal" fill="#111" >0.0</text>
<text transform="translate(25.74 387.21) scale(1.155 1)" font-size="8.96" font-weight="bold" font-style="normal" fill="#111" >0.1</text>
<text transform="translate(25.64 355.51) scale(1.155 1)" font-size="8.96" font-weight="bold" font-style="normal" fill="#111" >0.2</text>
<text transform="translate(25.53 323.81) scale(1.155 1)" font-size="8.96" font-weight="bold" font-style="normal" fill="#111" >0.3</text>
<text transform="translate(25.43 292.11) scale(1.155 1)" font-size="8.96" font-weight="bold" font-style="normal" fill="#111" >0.4</text>
<text transform="translate(25.64 260.41) scale(1.155 1)" font-size="8.96" font-weight="bold" font-style="normal" fill="#111" >0.5</text>
<text transform="translate(32.59 427.59) scale(1.078 1)" font-size="10.60" font-weight="bold" font-style="normal" fill="#111" >0.04</text>
<text transform="translate(67.11 427.59) scale(1.078 1)" font-size="10.60" font-weight="bold" font-style="normal" fill="#111" >0.06</text>
<text transform="translate(101.58 427.59) scale(1.078 1)" font-size="10.60" font-weight="bold" font-style="normal" fill="#111" >0.08</text>
<text transform="translate(136.1 427.59) scale(1.078 1)" font-size="10.60" font-weight="bold" font-style="normal" fill="#111" >0.10</text>
<text transform="translate(170.57 427.59) scale(1.078 1)" font-size="10.60" font-weight="bold" font-style="normal" fill="#111" >0.12</text>
<text transform="translate(204.92 427.59) scale(1.078 1)" font-size="10.60" font-weight="bold" font-style="normal" fill="#111" >0.14</text>
<text transform="translate(239.44 427.59) scale(1.078 1)" font-size="10.60" font-weight="bold" font-style="normal" fill="#111" >0.16</text>
<text transform="translate(67.58 445.09) scale(1.021 1)" font-size="13.85" font-weight="bold" font-style="normal" fill="#111" >Inserted Ir thickness (nm)</text>
<text transform="translate(13 380.4) rotate(-90) scale(1.075 1)" font-size="13.00" font-weight="bold" fill="#111"><tspan font-style="italic">K</tspan><tspan font-size="8.06" dy="2.86">PMA</tspan><tspan font-style="italic" dy="-2.86">t</tspan><tspan font-size="8.06" dy="2.86">free</tspan><tspan dy="-2.86"> (mJ/m</tspan><tspan font-size="8.06" dy="-4.94">2</tspan><tspan dy="4.94">)</tspan></text>
<rect x="302.4" y="257.7" width="206.4" height="158.5" fill="none" stroke="#4a4a4a" stroke-width="1.0"/>
<line x1="302.4" y1="416.2" x2="302.4" y2="413.5" stroke="#4a4a4a" stroke-width="1.0"/>
<line x1="302.4" y1="257.7" x2="302.4" y2="260.4" stroke="#4a4a4a" stroke-width="1.0"/>
<line x1="336.8" y1="416.2" x2="336.8" y2="413.5" stroke="#4a4a4a" stroke-width="1.0"/>
<line x1="336.8" y1="257.7" x2="336.8" y2="260.4" stroke="#4a4a4a" stroke-width="1.0"/>
<line x1="371.2" y1="416.2" x2="371.2" y2="413.5" stroke="#4a4a4a" stroke-width="1.0"/>
<line x1="371.2" y1="257.7" x2="371.2" y2="260.4" stroke="#4a4a4a" stroke-width="1.0"/>
<line x1="405.6" y1="416.2" x2="405.6" y2="413.5" stroke="#4a4a4a" stroke-width="1.0"/>
<line x1="405.6" y1="257.7" x2="405.6" y2="260.4" stroke="#4a4a4a" stroke-width="1.0"/>
<line x1="440" y1="416.2" x2="440" y2="413.5" stroke="#4a4a4a" stroke-width="1.0"/>
<line x1="440" y1="257.7" x2="440" y2="260.4" stroke="#4a4a4a" stroke-width="1.0"/>
<line x1="474.4" y1="416.2" x2="474.4" y2="413.5" stroke="#4a4a4a" stroke-width="1.0"/>
<line x1="474.4" y1="257.7" x2="474.4" y2="260.4" stroke="#4a4a4a" stroke-width="1.0"/>
<line x1="508.8" y1="416.2" x2="508.8" y2="413.5" stroke="#4a4a4a" stroke-width="1.0"/>
<line x1="508.8" y1="257.7" x2="508.8" y2="260.4" stroke="#4a4a4a" stroke-width="1.0"/>
<line x1="319.6" y1="416.2" x2="319.6" y2="414.7" stroke="#4a4a4a" stroke-width="1.0"/>
<line x1="319.6" y1="257.7" x2="319.6" y2="259.2" stroke="#4a4a4a" stroke-width="1.0"/>
<line x1="354" y1="416.2" x2="354" y2="414.7" stroke="#4a4a4a" stroke-width="1.0"/>
<line x1="354" y1="257.7" x2="354" y2="259.2" stroke="#4a4a4a" stroke-width="1.0"/>
<line x1="388.4" y1="416.2" x2="388.4" y2="414.7" stroke="#4a4a4a" stroke-width="1.0"/>
<line x1="388.4" y1="257.7" x2="388.4" y2="259.2" stroke="#4a4a4a" stroke-width="1.0"/>
<line x1="422.8" y1="416.2" x2="422.8" y2="414.7" stroke="#4a4a4a" stroke-width="1.0"/>
<line x1="422.8" y1="257.7" x2="422.8" y2="259.2" stroke="#4a4a4a" stroke-width="1.0"/>
<line x1="457.2" y1="416.2" x2="457.2" y2="414.7" stroke="#4a4a4a" stroke-width="1.0"/>
<line x1="457.2" y1="257.7" x2="457.2" y2="259.2" stroke="#4a4a4a" stroke-width="1.0"/>
<line x1="491.6" y1="416.2" x2="491.6" y2="414.7" stroke="#4a4a4a" stroke-width="1.0"/>
<line x1="491.6" y1="257.7" x2="491.6" y2="259.2" stroke="#4a4a4a" stroke-width="1.0"/>
<line x1="302.4" y1="416.2" x2="305.1" y2="416.2" stroke="#4a4a4a" stroke-width="1.0"/>
<line x1="508.8" y1="416.2" x2="506.1" y2="416.2" stroke="#4a4a4a" stroke-width="1.0"/>
<line x1="302.4" y1="396.39" x2="305.1" y2="396.39" stroke="#4a4a4a" stroke-width="1.0"/>
<line x1="508.8" y1="396.39" x2="506.1" y2="396.39" stroke="#4a4a4a" stroke-width="1.0"/>
<line x1="302.4" y1="376.57" x2="305.1" y2="376.57" stroke="#4a4a4a" stroke-width="1.0"/>
<line x1="508.8" y1="376.57" x2="506.1" y2="376.57" stroke="#4a4a4a" stroke-width="1.0"/>
<line x1="302.4" y1="356.76" x2="305.1" y2="356.76" stroke="#4a4a4a" stroke-width="1.0"/>
<line x1="508.8" y1="356.76" x2="506.1" y2="356.76" stroke="#4a4a4a" stroke-width="1.0"/>
<line x1="302.4" y1="336.95" x2="305.1" y2="336.95" stroke="#4a4a4a" stroke-width="1.0"/>
<line x1="508.8" y1="336.95" x2="506.1" y2="336.95" stroke="#4a4a4a" stroke-width="1.0"/>
<line x1="302.4" y1="317.14" x2="305.1" y2="317.14" stroke="#4a4a4a" stroke-width="1.0"/>
<line x1="508.8" y1="317.14" x2="506.1" y2="317.14" stroke="#4a4a4a" stroke-width="1.0"/>
<line x1="302.4" y1="297.32" x2="305.1" y2="297.32" stroke="#4a4a4a" stroke-width="1.0"/>
<line x1="508.8" y1="297.32" x2="506.1" y2="297.32" stroke="#4a4a4a" stroke-width="1.0"/>
<line x1="302.4" y1="277.51" x2="305.1" y2="277.51" stroke="#4a4a4a" stroke-width="1.0"/>
<line x1="508.8" y1="277.51" x2="506.1" y2="277.51" stroke="#4a4a4a" stroke-width="1.0"/>
<line x1="302.4" y1="257.7" x2="305.1" y2="257.7" stroke="#4a4a4a" stroke-width="1.0"/>
<line x1="508.8" y1="257.7" x2="506.1" y2="257.7" stroke="#4a4a4a" stroke-width="1.0"/>
<line x1="302.4" y1="406.29" x2="303.9" y2="406.29" stroke="#4a4a4a" stroke-width="1.0"/>
<line x1="508.8" y1="406.29" x2="507.3" y2="406.29" stroke="#4a4a4a" stroke-width="1.0"/>
<line x1="302.4" y1="386.48" x2="303.9" y2="386.48" stroke="#4a4a4a" stroke-width="1.0"/>
<line x1="508.8" y1="386.48" x2="507.3" y2="386.48" stroke="#4a4a4a" stroke-width="1.0"/>
<line x1="302.4" y1="366.67" x2="303.9" y2="366.67" stroke="#4a4a4a" stroke-width="1.0"/>
<line x1="508.8" y1="366.67" x2="507.3" y2="366.67" stroke="#4a4a4a" stroke-width="1.0"/>
<line x1="302.4" y1="346.86" x2="303.9" y2="346.86" stroke="#4a4a4a" stroke-width="1.0"/>
<line x1="508.8" y1="346.86" x2="507.3" y2="346.86" stroke="#4a4a4a" stroke-width="1.0"/>
<line x1="302.4" y1="327.04" x2="303.9" y2="327.04" stroke="#4a4a4a" stroke-width="1.0"/>
<line x1="508.8" y1="327.04" x2="507.3" y2="327.04" stroke="#4a4a4a" stroke-width="1.0"/>
<line x1="302.4" y1="307.23" x2="303.9" y2="307.23" stroke="#4a4a4a" stroke-width="1.0"/>
<line x1="508.8" y1="307.23" x2="507.3" y2="307.23" stroke="#4a4a4a" stroke-width="1.0"/>
<line x1="302.4" y1="287.42" x2="303.9" y2="287.42" stroke="#4a4a4a" stroke-width="1.0"/>
<line x1="508.8" y1="287.42" x2="507.3" y2="287.42" stroke="#4a4a4a" stroke-width="1.0"/>
<line x1="302.4" y1="267.61" x2="303.9" y2="267.61" stroke="#4a4a4a" stroke-width="1.0"/>
<line x1="508.8" y1="267.61" x2="507.3" y2="267.61" stroke="#4a4a4a" stroke-width="1.0"/>
<line x1="324.64" y1="280.23" x2="400.56" y2="304.81" stroke="#857d7d" stroke-width="0.85"/>
<line x1="410.78" y1="307.56" x2="486.42" y2="323.94" stroke="#857d7d" stroke-width="0.85"/>
<line x1="324.85" y1="301.73" x2="400.35" y2="312.43" stroke="#cc8c8c" stroke-width="0.85"/>
<line x1="410.83" y1="314.05" x2="486.37" y2="326.67" stroke="#cc8c8c" stroke-width="0.85"/>
<line x1="324.9" y1="318.72" x2="400.3" y2="317.24" stroke="#9a90d0" stroke-width="0.85"/>
<line x1="410.85" y1="317.84" x2="486.35" y2="327.93" stroke="#9a90d0" stroke-width="0.85"/>
<line x1="324.86" y1="331.17" x2="400.34" y2="322.13" stroke="#9cd89c" stroke-width="0.85"/>
<line x1="410.89" y1="321.81" x2="486.31" y2="326.33" stroke="#9cd89c" stroke-width="0.85"/>
<circle cx="319.60" cy="278.60" r="3.9" fill="#000000"/>
<circle cx="405.60" cy="306.44" r="3.9" fill="#000000"/>
<circle cx="491.60" cy="325.06" r="3.9" fill="#000000"/>
<circle cx="319.60" cy="300.99" r="3.9" fill="#ee1111"/>
<circle cx="405.60" cy="313.17" r="3.9" fill="#ee1111"/>
<circle cx="491.60" cy="327.54" r="3.9" fill="#ee1111"/>
<circle cx="319.60" cy="318.82" r="3.9" fill="#1111dd"/>
<circle cx="405.60" cy="317.14" r="3.9" fill="#1111dd"/>
<circle cx="491.60" cy="328.63" r="3.9" fill="#1111dd"/>
<circle cx="319.60" cy="331.80" r="3.9" fill="#22ee22"/>
<circle cx="405.60" cy="321.50" r="3.9" fill="#22ee22"/>
<circle cx="491.60" cy="326.65" r="3.9" fill="#22ee22"/>
<rect x="441.3" y="352.5" width="49.2" height="54.9" fill="none" stroke="#808080" stroke-width="1.0"/>
<line x1="443.6" y1="361.3" x2="446.2" y2="361.3" stroke="#857d7d" stroke-width="1.0"/>
<line x1="457.2" y1="361.3" x2="460" y2="361.3" stroke="#857d7d" stroke-width="1.0"/>
<circle cx="451.8" cy="361.30" r="4" fill="#000000"/>
<text transform="translate(463.09 364.4) scale(1.064 1)" font-size="9.55" font-weight="bold" font-style="normal" fill="#111" >200°C</text>
<line x1="443.6" y1="374.6" x2="446.2" y2="374.6" stroke="#cc8c8c" stroke-width="1.0"/>
<line x1="457.2" y1="374.6" x2="460" y2="374.6" stroke="#cc8c8c" stroke-width="1.0"/>
<circle cx="451.8" cy="374.60" r="4" fill="#ee1111"/>
<text transform="translate(463.09 377.7) scale(1.064 1)" font-size="9.55" font-weight="bold" font-style="normal" fill="#111" >250°C</text>
<line x1="443.6" y1="387.9" x2="446.2" y2="387.9" stroke="#9a90d0" stroke-width="1.0"/>
<line x1="457.2" y1="387.9" x2="460" y2="387.9" stroke="#9a90d0" stroke-width="1.0"/>
<circle cx="451.8" cy="387.90" r="4" fill="#1111dd"/>
<text transform="translate(463.09 391) scale(1.064 1)" font-size="9.55" font-weight="bold" font-style="normal" fill="#111" >300°C</text>
<line x1="443.6" y1="401.2" x2="446.2" y2="401.2" stroke="#9cd89c" stroke-width="1.0"/>
<line x1="457.2" y1="401.2" x2="460" y2="401.2" stroke="#9cd89c" stroke-width="1.0"/>
<circle cx="451.8" cy="401.20" r="4" fill="#22ee22"/>
<text transform="translate(463.09 404.3) scale(1.064 1)" font-size="9.55" font-weight="bold" font-style="normal" fill="#111" >350°C</text>
<text transform="translate(252.57 236.41) scale(1.002 1)" font-size="15.67" font-weight="bold" font-style="normal" fill="#111" >(d)</text>
<text transform="translate(293.24 419.21) scale(1.156 1)" font-size="8.96" font-weight="bold" font-style="normal" fill="#111" >0</text>
<text transform="translate(282.16 399.4) scale(1.156 1)" font-size="8.96" font-weight="bold" font-style="normal" fill="#111" >−20</text>
<text transform="translate(282.16 379.59) scale(1.156 1)" font-size="8.96" font-weight="bold" font-style="normal" fill="#111" >−40</text>
<text transform="translate(282.16 359.77) scale(1.156 1)" font-size="8.96" font-weight="bold" font-style="normal" fill="#111" >−60</text>
<text transform="translate(282.16 339.96) scale(1.156 1)" font-size="8.96" font-weight="bold" font-style="normal" fill="#111" >−80</text>
<text transform="translate(276.98 320.15) scale(1.156 1)" font-size="8.96" font-weight="bold" font-style="normal" fill="#111" >−100</text>
<text transform="translate(276.98 300.34) scale(1.156 1)" font-size="8.96" font-weight="bold" font-style="normal" fill="#111" >−120</text>
<text transform="translate(276.98 280.52) scale(1.156 1)" font-size="8.96" font-weight="bold" font-style="normal" fill="#111" >−140</text>
<text transform="translate(276.98 260.71) scale(1.156 1)" font-size="8.96" font-weight="bold" font-style="normal" fill="#111" >−160</text>
<text transform="translate(292.59 427.59) scale(1.078 1)" font-size="10.60" font-weight="bold" font-style="normal" fill="#111" >0.04</text>
<text transform="translate(327.04 427.59) scale(1.078 1)" font-size="10.60" font-weight="bold" font-style="normal" fill="#111" >0.06</text>
<text transform="translate(361.44 427.59) scale(1.078 1)" font-size="10.60" font-weight="bold" font-style="normal" fill="#111" >0.08</text>
<text transform="translate(395.9 427.59) scale(1.078 1)" font-size="10.60" font-weight="bold" font-style="normal" fill="#111" >0.10</text>
<text transform="translate(430.3 427.59) scale(1.078 1)" font-size="10.60" font-weight="bold" font-style="normal" fill="#111" >0.12</text>
<text transform="translate(464.59 427.59) scale(1.078 1)" font-size="10.60" font-weight="bold" font-style="normal" fill="#111" >0.14</text>
<text transform="translate(499.04 427.59) scale(1.078 1)" font-size="10.60" font-weight="bold" font-style="normal" fill="#111" >0.16</text>
<text transform="translate(331.58 445.02) scale(1.030 1)" font-size="13.74" font-weight="bold" font-style="normal" fill="#111" >Inserted Ir thickness (nm)</text>
<text transform="translate(274.2 410) rotate(-90) translate(-0.13 0) scale(0.984 1)" font-size="13.71" font-weight="bold" fill="#111">VCMA coefficient (fJVm)</text>
</svg>
</body></html>
